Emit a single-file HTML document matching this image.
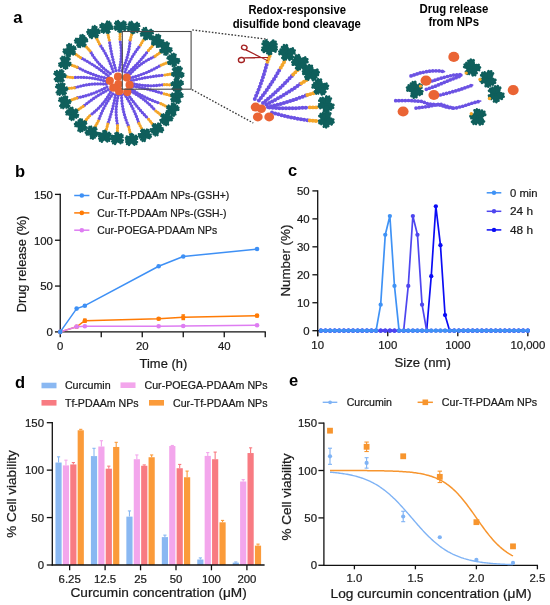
<!DOCTYPE html>
<html><head><meta charset="utf-8"><style>
html,body{margin:0;padding:0;background:#fff;}
body{width:550px;height:605px;overflow:hidden;}
svg{display:block;will-change:transform;font-family:"Liberation Sans", sans-serif;}
</style></head><body>
<svg width="550" height="605" viewBox="0 0 550 605">
<rect width="550" height="605" fill="#fff"/>
<text x="13.20" y="22.80" font-size="16.5" text-anchor="start" fill="#000" font-weight="bold" >a</text>
<text x="15.00" y="176.80" font-size="16.5" text-anchor="start" fill="#000" font-weight="bold" >b</text>
<text x="288.00" y="176.30" font-size="16.5" text-anchor="start" fill="#000" font-weight="bold" >c</text>
<text x="15.00" y="387.70" font-size="16.5" text-anchor="start" fill="#000" font-weight="bold" >d</text>
<text x="288.90" y="385.80" font-size="16.5" text-anchor="start" fill="#000" font-weight="bold" >e</text>
<line x1="60.25" y1="193.79" x2="60.25" y2="337.20" stroke="#111" stroke-width="1.3" />
<line x1="59.65" y1="331.90" x2="265.85" y2="331.90" stroke="#111" stroke-width="1.3" />
<line x1="54.95" y1="331.90" x2="60.25" y2="331.90" stroke="#111" stroke-width="1.3" />
<text x="52.90" y="336.20" font-size="11.4" text-anchor="end" fill="#1a1a1a" stroke="#1a1a1a" stroke-width="0.22" >0</text>
<line x1="54.95" y1="286.06" x2="60.25" y2="286.06" stroke="#111" stroke-width="1.3" />
<text x="52.90" y="290.37" font-size="11.4" text-anchor="end" fill="#1a1a1a" stroke="#1a1a1a" stroke-width="0.22" >50</text>
<line x1="54.95" y1="240.23" x2="60.25" y2="240.23" stroke="#111" stroke-width="1.3" />
<text x="52.90" y="244.53" font-size="11.4" text-anchor="end" fill="#1a1a1a" stroke="#1a1a1a" stroke-width="0.22" >100</text>
<line x1="54.95" y1="194.39" x2="60.25" y2="194.39" stroke="#111" stroke-width="1.3" />
<text x="52.90" y="198.69" font-size="11.4" text-anchor="end" fill="#1a1a1a" stroke="#1a1a1a" stroke-width="0.22" >150</text>
<line x1="101.25" y1="331.90" x2="101.25" y2="337.20" stroke="#111" stroke-width="1.3" />
<line x1="142.25" y1="331.90" x2="142.25" y2="337.20" stroke="#111" stroke-width="1.3" />
<line x1="183.25" y1="331.90" x2="183.25" y2="337.20" stroke="#111" stroke-width="1.3" />
<line x1="224.25" y1="331.90" x2="224.25" y2="337.20" stroke="#111" stroke-width="1.3" />
<line x1="265.25" y1="331.90" x2="265.25" y2="337.20" stroke="#111" stroke-width="1.3" />
<text x="60.25" y="349.50" font-size="11.4" text-anchor="middle" fill="#1a1a1a" stroke="#1a1a1a" stroke-width="0.22" >0</text>
<text x="142.25" y="349.50" font-size="11.4" text-anchor="middle" fill="#1a1a1a" stroke="#1a1a1a" stroke-width="0.22" >20</text>
<text x="224.25" y="349.50" font-size="11.4" text-anchor="middle" fill="#1a1a1a" stroke="#1a1a1a" stroke-width="0.22" >40</text>
<text x="163.40" y="367.60" font-size="12.8" text-anchor="middle" fill="#1a1a1a" stroke="#1a1a1a" stroke-width="0.22" textLength="47.60" lengthAdjust="spacingAndGlyphs" >Time (h)</text>
<text x="26.20" y="264.00" font-size="12.8" text-anchor="middle" fill="#1a1a1a" stroke="#1a1a1a" stroke-width="0.22" textLength="96.60" lengthAdjust="spacingAndGlyphs" transform="rotate(-90 26.20 264.00)" >Drug release (%)</text>
<line x1="84.85" y1="319.07" x2="84.85" y2="322.37" stroke="#ff7b05" stroke-width="1.2" />
<line x1="83.05" y1="319.07" x2="86.65" y2="319.07" stroke="#ff7b05" stroke-width="1.2" />
<line x1="83.05" y1="322.37" x2="86.65" y2="322.37" stroke="#ff7b05" stroke-width="1.2" />
<line x1="158.65" y1="317.60" x2="158.65" y2="319.80" stroke="#ff7b05" stroke-width="1.2" />
<line x1="156.85" y1="317.60" x2="160.45" y2="317.60" stroke="#ff7b05" stroke-width="1.2" />
<line x1="156.85" y1="319.80" x2="160.45" y2="319.80" stroke="#ff7b05" stroke-width="1.2" />
<line x1="183.25" y1="314.85" x2="183.25" y2="319.62" stroke="#ff7b05" stroke-width="1.2" />
<line x1="181.45" y1="314.85" x2="185.05" y2="314.85" stroke="#ff7b05" stroke-width="1.2" />
<line x1="181.45" y1="319.62" x2="185.05" y2="319.62" stroke="#ff7b05" stroke-width="1.2" />
<line x1="257.05" y1="314.57" x2="257.05" y2="316.77" stroke="#ff7b05" stroke-width="1.2" />
<line x1="255.25" y1="314.57" x2="258.85" y2="314.57" stroke="#ff7b05" stroke-width="1.2" />
<line x1="255.25" y1="316.77" x2="258.85" y2="316.77" stroke="#ff7b05" stroke-width="1.2" />
<polyline points="60.25,331.90 76.65,326.77 84.85,320.72 158.65,318.70 183.25,317.23 257.05,315.67" fill="none" stroke="#ff7b05" stroke-width="1.5" stroke-linejoin="round" />
<circle cx="60.25" cy="331.90" r="2.30" fill="#ff7b05" />
<circle cx="76.65" cy="326.77" r="2.30" fill="#ff7b05" />
<circle cx="84.85" cy="320.72" r="2.30" fill="#ff7b05" />
<circle cx="158.65" cy="318.70" r="2.30" fill="#ff7b05" />
<circle cx="183.25" cy="317.23" r="2.30" fill="#ff7b05" />
<circle cx="257.05" cy="315.67" r="2.30" fill="#ff7b05" />
<polyline points="60.25,331.90 76.65,326.67 84.85,326.22 158.65,326.22 183.25,325.94 257.05,325.21" fill="none" stroke="#de7df2" stroke-width="1.5" stroke-linejoin="round" />
<circle cx="60.25" cy="331.90" r="2.30" fill="#de7df2" />
<circle cx="76.65" cy="326.67" r="2.30" fill="#de7df2" />
<circle cx="84.85" cy="326.22" r="2.30" fill="#de7df2" />
<circle cx="158.65" cy="326.22" r="2.30" fill="#de7df2" />
<circle cx="183.25" cy="325.94" r="2.30" fill="#de7df2" />
<circle cx="257.05" cy="325.21" r="2.30" fill="#de7df2" />
<polyline points="60.25,331.90 76.65,308.62 84.85,305.68 158.65,266.26 183.25,256.55 257.05,249.03" fill="none" stroke="#3e90f5" stroke-width="1.5" stroke-linejoin="round" />
<circle cx="60.25" cy="331.90" r="2.30" fill="#3e90f5" />
<circle cx="76.65" cy="308.62" r="2.30" fill="#3e90f5" />
<circle cx="84.85" cy="305.68" r="2.30" fill="#3e90f5" />
<circle cx="158.65" cy="266.26" r="2.30" fill="#3e90f5" />
<circle cx="183.25" cy="256.55" r="2.30" fill="#3e90f5" />
<circle cx="257.05" cy="249.03" r="2.30" fill="#3e90f5" />
<line x1="74.20" y1="195.50" x2="89.40" y2="195.50" stroke="#3e90f5" stroke-width="1.5" />
<circle cx="81.80" cy="195.50" r="2.30" fill="#3e90f5" />
<text x="97.30" y="199.40" font-size="11.4" text-anchor="start" fill="#1a1a1a" stroke="#1a1a1a" stroke-width="0.22" textLength="132.00" lengthAdjust="spacingAndGlyphs" >Cur-Tf-PDAAm NPs-(GSH+)</text>
<line x1="74.20" y1="212.90" x2="89.40" y2="212.90" stroke="#ff7b05" stroke-width="1.5" />
<circle cx="81.80" cy="212.90" r="2.30" fill="#ff7b05" />
<text x="97.30" y="216.80" font-size="11.4" text-anchor="start" fill="#1a1a1a" stroke="#1a1a1a" stroke-width="0.22" textLength="129.20" lengthAdjust="spacingAndGlyphs" >Cur-Tf-PDAAm NPs-(GSH-)</text>
<line x1="74.20" y1="230.20" x2="89.40" y2="230.20" stroke="#de7df2" stroke-width="1.5" />
<circle cx="81.80" cy="230.20" r="2.30" fill="#de7df2" />
<text x="97.30" y="234.10" font-size="11.4" text-anchor="start" fill="#1a1a1a" stroke="#1a1a1a" stroke-width="0.22" textLength="119.90" lengthAdjust="spacingAndGlyphs" >Cur-POEGA-PDAAm NPs</text>
<line x1="317.70" y1="190.30" x2="317.70" y2="336.20" stroke="#111" stroke-width="1.3" />
<line x1="317.10" y1="330.70" x2="528.45" y2="330.70" stroke="#111" stroke-width="1.3" />
<line x1="312.40" y1="330.70" x2="317.70" y2="330.70" stroke="#111" stroke-width="1.3" />
<text x="309.60" y="334.90" font-size="11.4" text-anchor="end" fill="#1a1a1a" stroke="#1a1a1a" stroke-width="0.22" >0</text>
<line x1="312.40" y1="302.74" x2="317.70" y2="302.74" stroke="#111" stroke-width="1.3" />
<text x="309.60" y="306.94" font-size="11.4" text-anchor="end" fill="#1a1a1a" stroke="#1a1a1a" stroke-width="0.22" >10</text>
<line x1="312.40" y1="274.78" x2="317.70" y2="274.78" stroke="#111" stroke-width="1.3" />
<text x="309.60" y="278.98" font-size="11.4" text-anchor="end" fill="#1a1a1a" stroke="#1a1a1a" stroke-width="0.22" >20</text>
<line x1="312.40" y1="246.82" x2="317.70" y2="246.82" stroke="#111" stroke-width="1.3" />
<text x="309.60" y="251.02" font-size="11.4" text-anchor="end" fill="#1a1a1a" stroke="#1a1a1a" stroke-width="0.22" >30</text>
<line x1="312.40" y1="218.86" x2="317.70" y2="218.86" stroke="#111" stroke-width="1.3" />
<text x="309.60" y="223.06" font-size="11.4" text-anchor="end" fill="#1a1a1a" stroke="#1a1a1a" stroke-width="0.22" >40</text>
<line x1="312.40" y1="190.90" x2="317.70" y2="190.90" stroke="#111" stroke-width="1.3" />
<text x="309.60" y="195.10" font-size="11.4" text-anchor="end" fill="#1a1a1a" stroke="#1a1a1a" stroke-width="0.22" >50</text>
<line x1="317.70" y1="330.70" x2="317.70" y2="336.20" stroke="#111" stroke-width="1.3" />
<text x="317.70" y="349.00" font-size="11.4" text-anchor="middle" fill="#1a1a1a" stroke="#1a1a1a" stroke-width="0.22" >10</text>
<line x1="387.75" y1="330.70" x2="387.75" y2="336.20" stroke="#111" stroke-width="1.3" />
<text x="387.75" y="349.00" font-size="11.4" text-anchor="middle" fill="#1a1a1a" stroke="#1a1a1a" stroke-width="0.22" >100</text>
<line x1="457.80" y1="330.70" x2="457.80" y2="336.20" stroke="#111" stroke-width="1.3" />
<text x="457.80" y="349.00" font-size="11.4" text-anchor="middle" fill="#1a1a1a" stroke="#1a1a1a" stroke-width="0.22" >1000</text>
<line x1="527.85" y1="330.70" x2="527.85" y2="336.20" stroke="#111" stroke-width="1.3" />
<text x="527.85" y="349.00" font-size="11.4" text-anchor="middle" fill="#1a1a1a" stroke="#1a1a1a" stroke-width="0.22" >10,000</text>
<text x="422.70" y="367.40" font-size="12.8" text-anchor="middle" fill="#1a1a1a" stroke="#1a1a1a" stroke-width="0.22" textLength="56.40" lengthAdjust="spacingAndGlyphs" >Size (nm)</text>
<text x="289.80" y="260.60" font-size="12.8" text-anchor="middle" fill="#1a1a1a" stroke="#1a1a1a" stroke-width="0.22" textLength="71.90" lengthAdjust="spacingAndGlyphs" transform="rotate(-90 289.80 260.60)" >Number (%)</text>
<polyline points="320.90,330.70 325.50,330.70 330.10,330.70 334.69,330.70 339.29,330.70 343.89,330.70 348.49,330.70 353.09,330.70 357.68,330.70 362.28,330.70 366.88,330.70 371.48,330.70 376.08,330.70 380.67,330.70 385.27,330.70 389.87,330.70 394.47,330.70 399.07,330.70 403.66,330.70 408.26,330.70 412.86,330.70 417.46,330.70 422.06,330.70 426.65,330.70 431.25,276.18 435.85,206.28 440.45,245.14 445.05,315.04 449.64,330.70 454.24,330.70 458.84,330.70 463.44,330.70 468.04,330.70 472.63,330.70 477.23,330.70 481.83,330.70 486.43,330.70 491.03,330.70 495.62,330.70 500.22,330.70 504.82,330.70 509.42,330.70 514.02,330.70 518.61,330.70 523.21,330.70 527.81,330.70" fill="none" stroke="#0b0cf4" stroke-width="1.7" stroke-linejoin="round" />
<circle cx="320.90" cy="330.70" r="2.15" fill="#0b0cf4" />
<circle cx="325.50" cy="330.70" r="2.15" fill="#0b0cf4" />
<circle cx="330.10" cy="330.70" r="2.15" fill="#0b0cf4" />
<circle cx="334.69" cy="330.70" r="2.15" fill="#0b0cf4" />
<circle cx="339.29" cy="330.70" r="2.15" fill="#0b0cf4" />
<circle cx="343.89" cy="330.70" r="2.15" fill="#0b0cf4" />
<circle cx="348.49" cy="330.70" r="2.15" fill="#0b0cf4" />
<circle cx="353.09" cy="330.70" r="2.15" fill="#0b0cf4" />
<circle cx="357.68" cy="330.70" r="2.15" fill="#0b0cf4" />
<circle cx="362.28" cy="330.70" r="2.15" fill="#0b0cf4" />
<circle cx="366.88" cy="330.70" r="2.15" fill="#0b0cf4" />
<circle cx="371.48" cy="330.70" r="2.15" fill="#0b0cf4" />
<circle cx="376.08" cy="330.70" r="2.15" fill="#0b0cf4" />
<circle cx="380.67" cy="330.70" r="2.15" fill="#0b0cf4" />
<circle cx="385.27" cy="330.70" r="2.15" fill="#0b0cf4" />
<circle cx="389.87" cy="330.70" r="2.15" fill="#0b0cf4" />
<circle cx="394.47" cy="330.70" r="2.15" fill="#0b0cf4" />
<circle cx="399.07" cy="330.70" r="2.15" fill="#0b0cf4" />
<circle cx="403.66" cy="330.70" r="2.15" fill="#0b0cf4" />
<circle cx="408.26" cy="330.70" r="2.15" fill="#0b0cf4" />
<circle cx="412.86" cy="330.70" r="2.15" fill="#0b0cf4" />
<circle cx="417.46" cy="330.70" r="2.15" fill="#0b0cf4" />
<circle cx="422.06" cy="330.70" r="2.15" fill="#0b0cf4" />
<circle cx="426.65" cy="330.70" r="2.15" fill="#0b0cf4" />
<circle cx="431.25" cy="276.18" r="2.15" fill="#0b0cf4" />
<circle cx="435.85" cy="206.28" r="2.15" fill="#0b0cf4" />
<circle cx="440.45" cy="245.14" r="2.15" fill="#0b0cf4" />
<circle cx="445.05" cy="315.04" r="2.15" fill="#0b0cf4" />
<circle cx="449.64" cy="330.70" r="2.15" fill="#0b0cf4" />
<circle cx="454.24" cy="330.70" r="2.15" fill="#0b0cf4" />
<circle cx="458.84" cy="330.70" r="2.15" fill="#0b0cf4" />
<circle cx="463.44" cy="330.70" r="2.15" fill="#0b0cf4" />
<circle cx="468.04" cy="330.70" r="2.15" fill="#0b0cf4" />
<circle cx="472.63" cy="330.70" r="2.15" fill="#0b0cf4" />
<circle cx="477.23" cy="330.70" r="2.15" fill="#0b0cf4" />
<circle cx="481.83" cy="330.70" r="2.15" fill="#0b0cf4" />
<circle cx="486.43" cy="330.70" r="2.15" fill="#0b0cf4" />
<circle cx="491.03" cy="330.70" r="2.15" fill="#0b0cf4" />
<circle cx="495.62" cy="330.70" r="2.15" fill="#0b0cf4" />
<circle cx="500.22" cy="330.70" r="2.15" fill="#0b0cf4" />
<circle cx="504.82" cy="330.70" r="2.15" fill="#0b0cf4" />
<circle cx="509.42" cy="330.70" r="2.15" fill="#0b0cf4" />
<circle cx="514.02" cy="330.70" r="2.15" fill="#0b0cf4" />
<circle cx="518.61" cy="330.70" r="2.15" fill="#0b0cf4" />
<circle cx="523.21" cy="330.70" r="2.15" fill="#0b0cf4" />
<circle cx="527.81" cy="330.70" r="2.15" fill="#0b0cf4" />
<polyline points="320.90,330.70 325.50,330.70 330.10,330.70 334.69,330.70 339.29,330.70 343.89,330.70 348.49,330.70 353.09,330.70 357.68,330.70 362.28,330.70 366.88,330.70 371.48,330.70 376.08,330.70 380.67,330.70 385.27,330.70 389.87,330.70 394.47,330.70 399.07,330.70 403.66,330.70 408.26,285.96 412.86,216.06 417.46,234.80 422.06,304.70 426.65,330.70 431.25,330.70 435.85,330.70 440.45,330.70 445.05,330.70 449.64,330.70 454.24,330.70 458.84,330.70 463.44,330.70 468.04,330.70 472.63,330.70 477.23,330.70 481.83,330.70 486.43,330.70 491.03,330.70 495.62,330.70 500.22,330.70 504.82,330.70 509.42,330.70 514.02,330.70 518.61,330.70 523.21,330.70 527.81,330.70" fill="none" stroke="#4e46ef" stroke-width="1.7" stroke-linejoin="round" />
<circle cx="320.90" cy="330.70" r="2.15" fill="#4e46ef" />
<circle cx="325.50" cy="330.70" r="2.15" fill="#4e46ef" />
<circle cx="330.10" cy="330.70" r="2.15" fill="#4e46ef" />
<circle cx="334.69" cy="330.70" r="2.15" fill="#4e46ef" />
<circle cx="339.29" cy="330.70" r="2.15" fill="#4e46ef" />
<circle cx="343.89" cy="330.70" r="2.15" fill="#4e46ef" />
<circle cx="348.49" cy="330.70" r="2.15" fill="#4e46ef" />
<circle cx="353.09" cy="330.70" r="2.15" fill="#4e46ef" />
<circle cx="357.68" cy="330.70" r="2.15" fill="#4e46ef" />
<circle cx="362.28" cy="330.70" r="2.15" fill="#4e46ef" />
<circle cx="366.88" cy="330.70" r="2.15" fill="#4e46ef" />
<circle cx="371.48" cy="330.70" r="2.15" fill="#4e46ef" />
<circle cx="376.08" cy="330.70" r="2.15" fill="#4e46ef" />
<circle cx="380.67" cy="330.70" r="2.15" fill="#4e46ef" />
<circle cx="385.27" cy="330.70" r="2.15" fill="#4e46ef" />
<circle cx="389.87" cy="330.70" r="2.15" fill="#4e46ef" />
<circle cx="394.47" cy="330.70" r="2.15" fill="#4e46ef" />
<circle cx="399.07" cy="330.70" r="2.15" fill="#4e46ef" />
<circle cx="403.66" cy="330.70" r="2.15" fill="#4e46ef" />
<circle cx="408.26" cy="285.96" r="2.15" fill="#4e46ef" />
<circle cx="412.86" cy="216.06" r="2.15" fill="#4e46ef" />
<circle cx="417.46" cy="234.80" r="2.15" fill="#4e46ef" />
<circle cx="422.06" cy="304.70" r="2.15" fill="#4e46ef" />
<circle cx="426.65" cy="330.70" r="2.15" fill="#4e46ef" />
<circle cx="431.25" cy="330.70" r="2.15" fill="#4e46ef" />
<circle cx="435.85" cy="330.70" r="2.15" fill="#4e46ef" />
<circle cx="440.45" cy="330.70" r="2.15" fill="#4e46ef" />
<circle cx="445.05" cy="330.70" r="2.15" fill="#4e46ef" />
<circle cx="449.64" cy="330.70" r="2.15" fill="#4e46ef" />
<circle cx="454.24" cy="330.70" r="2.15" fill="#4e46ef" />
<circle cx="458.84" cy="330.70" r="2.15" fill="#4e46ef" />
<circle cx="463.44" cy="330.70" r="2.15" fill="#4e46ef" />
<circle cx="468.04" cy="330.70" r="2.15" fill="#4e46ef" />
<circle cx="472.63" cy="330.70" r="2.15" fill="#4e46ef" />
<circle cx="477.23" cy="330.70" r="2.15" fill="#4e46ef" />
<circle cx="481.83" cy="330.70" r="2.15" fill="#4e46ef" />
<circle cx="486.43" cy="330.70" r="2.15" fill="#4e46ef" />
<circle cx="491.03" cy="330.70" r="2.15" fill="#4e46ef" />
<circle cx="495.62" cy="330.70" r="2.15" fill="#4e46ef" />
<circle cx="500.22" cy="330.70" r="2.15" fill="#4e46ef" />
<circle cx="504.82" cy="330.70" r="2.15" fill="#4e46ef" />
<circle cx="509.42" cy="330.70" r="2.15" fill="#4e46ef" />
<circle cx="514.02" cy="330.70" r="2.15" fill="#4e46ef" />
<circle cx="518.61" cy="330.70" r="2.15" fill="#4e46ef" />
<circle cx="523.21" cy="330.70" r="2.15" fill="#4e46ef" />
<circle cx="527.81" cy="330.70" r="2.15" fill="#4e46ef" />
<polyline points="320.90,330.70 325.50,330.70 330.10,330.70 334.69,330.70 339.29,330.70 343.89,330.70 348.49,330.70 353.09,330.70 357.68,330.70 362.28,330.70 366.88,330.70 371.48,330.70 376.08,330.70 380.67,304.70 385.27,234.80 389.87,216.06 394.47,285.96 399.07,330.70 403.66,330.70 408.26,330.70 412.86,330.70 417.46,330.70 422.06,330.70 426.65,330.70 431.25,330.70 435.85,330.70 440.45,330.70 445.05,330.70 449.64,330.70 454.24,330.70 458.84,330.70 463.44,330.70 468.04,330.70 472.63,330.70 477.23,330.70 481.83,330.70 486.43,330.70 491.03,330.70 495.62,330.70 500.22,330.70 504.82,330.70 509.42,330.70 514.02,330.70 518.61,330.70 523.21,330.70 527.81,330.70" fill="none" stroke="#3f92f5" stroke-width="1.7" stroke-linejoin="round" />
<circle cx="320.90" cy="330.70" r="2.15" fill="#3f92f5" />
<circle cx="325.50" cy="330.70" r="2.15" fill="#3f92f5" />
<circle cx="330.10" cy="330.70" r="2.15" fill="#3f92f5" />
<circle cx="334.69" cy="330.70" r="2.15" fill="#3f92f5" />
<circle cx="339.29" cy="330.70" r="2.15" fill="#3f92f5" />
<circle cx="343.89" cy="330.70" r="2.15" fill="#3f92f5" />
<circle cx="348.49" cy="330.70" r="2.15" fill="#3f92f5" />
<circle cx="353.09" cy="330.70" r="2.15" fill="#3f92f5" />
<circle cx="357.68" cy="330.70" r="2.15" fill="#3f92f5" />
<circle cx="362.28" cy="330.70" r="2.15" fill="#3f92f5" />
<circle cx="366.88" cy="330.70" r="2.15" fill="#3f92f5" />
<circle cx="371.48" cy="330.70" r="2.15" fill="#3f92f5" />
<circle cx="376.08" cy="330.70" r="2.15" fill="#3f92f5" />
<circle cx="380.67" cy="304.70" r="2.15" fill="#3f92f5" />
<circle cx="385.27" cy="234.80" r="2.15" fill="#3f92f5" />
<circle cx="389.87" cy="216.06" r="2.15" fill="#3f92f5" />
<circle cx="394.47" cy="285.96" r="2.15" fill="#3f92f5" />
<circle cx="399.07" cy="330.70" r="2.15" fill="#3f92f5" />
<circle cx="403.66" cy="330.70" r="2.15" fill="#3f92f5" />
<circle cx="408.26" cy="330.70" r="2.15" fill="#3f92f5" />
<circle cx="412.86" cy="330.70" r="2.15" fill="#3f92f5" />
<circle cx="417.46" cy="330.70" r="2.15" fill="#3f92f5" />
<circle cx="422.06" cy="330.70" r="2.15" fill="#3f92f5" />
<circle cx="426.65" cy="330.70" r="2.15" fill="#3f92f5" />
<circle cx="431.25" cy="330.70" r="2.15" fill="#3f92f5" />
<circle cx="435.85" cy="330.70" r="2.15" fill="#3f92f5" />
<circle cx="440.45" cy="330.70" r="2.15" fill="#3f92f5" />
<circle cx="445.05" cy="330.70" r="2.15" fill="#3f92f5" />
<circle cx="449.64" cy="330.70" r="2.15" fill="#3f92f5" />
<circle cx="454.24" cy="330.70" r="2.15" fill="#3f92f5" />
<circle cx="458.84" cy="330.70" r="2.15" fill="#3f92f5" />
<circle cx="463.44" cy="330.70" r="2.15" fill="#3f92f5" />
<circle cx="468.04" cy="330.70" r="2.15" fill="#3f92f5" />
<circle cx="472.63" cy="330.70" r="2.15" fill="#3f92f5" />
<circle cx="477.23" cy="330.70" r="2.15" fill="#3f92f5" />
<circle cx="481.83" cy="330.70" r="2.15" fill="#3f92f5" />
<circle cx="486.43" cy="330.70" r="2.15" fill="#3f92f5" />
<circle cx="491.03" cy="330.70" r="2.15" fill="#3f92f5" />
<circle cx="495.62" cy="330.70" r="2.15" fill="#3f92f5" />
<circle cx="500.22" cy="330.70" r="2.15" fill="#3f92f5" />
<circle cx="504.82" cy="330.70" r="2.15" fill="#3f92f5" />
<circle cx="509.42" cy="330.70" r="2.15" fill="#3f92f5" />
<circle cx="514.02" cy="330.70" r="2.15" fill="#3f92f5" />
<circle cx="518.61" cy="330.70" r="2.15" fill="#3f92f5" />
<circle cx="523.21" cy="330.70" r="2.15" fill="#3f92f5" />
<circle cx="527.81" cy="330.70" r="2.15" fill="#3f92f5" />
<line x1="486.70" y1="192.80" x2="501.30" y2="192.80" stroke="#3f92f5" stroke-width="1.5" />
<circle cx="494.00" cy="192.80" r="2.20" fill="#3f92f5" />
<text x="510.00" y="196.70" font-size="11.8" text-anchor="start" fill="#1a1a1a" stroke="#1a1a1a" stroke-width="0.22" textLength="27.60" lengthAdjust="spacingAndGlyphs" >0 min</text>
<line x1="486.70" y1="211.30" x2="501.30" y2="211.30" stroke="#4e46ef" stroke-width="1.5" />
<circle cx="494.00" cy="211.30" r="2.20" fill="#4e46ef" />
<text x="510.00" y="215.20" font-size="11.8" text-anchor="start" fill="#1a1a1a" stroke="#1a1a1a" stroke-width="0.22" >24 h</text>
<line x1="486.70" y1="229.90" x2="501.30" y2="229.90" stroke="#0b0cf4" stroke-width="1.5" />
<circle cx="494.00" cy="229.90" r="2.20" fill="#0b0cf4" />
<text x="510.00" y="233.80" font-size="11.8" text-anchor="start" fill="#1a1a1a" stroke="#1a1a1a" stroke-width="0.22" >48 h</text>
<line x1="58.55" y1="462.54" x2="58.55" y2="456.85" stroke="#8ab8f2" stroke-width="1.1" />
<line x1="56.95" y1="456.85" x2="60.15" y2="456.85" stroke="#8ab8f2" stroke-width="1.1" />
<rect x="55.45" y="462.54" width="6.2" height="102.46" fill="#8ab8f2"/>
<line x1="65.95" y1="465.39" x2="65.95" y2="460.17" stroke="#f3a6ec" stroke-width="1.1" />
<line x1="64.35" y1="460.17" x2="67.55" y2="460.17" stroke="#f3a6ec" stroke-width="1.1" />
<rect x="62.85" y="465.39" width="6.2" height="99.61" fill="#f3a6ec"/>
<line x1="73.35" y1="464.44" x2="73.35" y2="462.54" stroke="#f87b82" stroke-width="1.1" />
<line x1="71.75" y1="462.54" x2="74.95" y2="462.54" stroke="#f87b82" stroke-width="1.1" />
<rect x="70.25" y="464.44" width="6.2" height="100.56" fill="#f87b82"/>
<line x1="80.75" y1="430.28" x2="80.75" y2="429.34" stroke="#fb9b3a" stroke-width="1.1" />
<line x1="79.15" y1="429.34" x2="82.35" y2="429.34" stroke="#fb9b3a" stroke-width="1.1" />
<rect x="77.65" y="430.28" width="6.2" height="134.72" fill="#fb9b3a"/>
<line x1="94.00" y1="456.09" x2="94.00" y2="448.31" stroke="#8ab8f2" stroke-width="1.1" />
<line x1="92.40" y1="448.31" x2="95.60" y2="448.31" stroke="#8ab8f2" stroke-width="1.1" />
<rect x="90.90" y="456.09" width="6.2" height="108.91" fill="#8ab8f2"/>
<line x1="101.40" y1="446.51" x2="101.40" y2="440.72" stroke="#f3a6ec" stroke-width="1.1" />
<line x1="99.80" y1="440.72" x2="103.00" y2="440.72" stroke="#f3a6ec" stroke-width="1.1" />
<rect x="98.30" y="446.51" width="6.2" height="118.49" fill="#f3a6ec"/>
<line x1="108.80" y1="468.71" x2="108.80" y2="466.15" stroke="#f87b82" stroke-width="1.1" />
<line x1="107.20" y1="466.15" x2="110.40" y2="466.15" stroke="#f87b82" stroke-width="1.1" />
<rect x="105.70" y="468.71" width="6.2" height="96.29" fill="#f87b82"/>
<line x1="116.20" y1="446.98" x2="116.20" y2="442.33" stroke="#fb9b3a" stroke-width="1.1" />
<line x1="114.60" y1="442.33" x2="117.80" y2="442.33" stroke="#fb9b3a" stroke-width="1.1" />
<rect x="113.10" y="446.98" width="6.2" height="118.02" fill="#fb9b3a"/>
<line x1="129.45" y1="516.62" x2="129.45" y2="510.92" stroke="#8ab8f2" stroke-width="1.1" />
<line x1="127.85" y1="510.92" x2="131.05" y2="510.92" stroke="#8ab8f2" stroke-width="1.1" />
<rect x="126.35" y="516.62" width="6.2" height="48.38" fill="#8ab8f2"/>
<line x1="136.85" y1="459.22" x2="136.85" y2="454.95" stroke="#f3a6ec" stroke-width="1.1" />
<line x1="135.25" y1="454.95" x2="138.45" y2="454.95" stroke="#f3a6ec" stroke-width="1.1" />
<rect x="133.75" y="459.22" width="6.2" height="105.78" fill="#f3a6ec"/>
<line x1="144.25" y1="465.77" x2="144.25" y2="464.91" stroke="#f87b82" stroke-width="1.1" />
<line x1="142.65" y1="464.91" x2="145.85" y2="464.91" stroke="#f87b82" stroke-width="1.1" />
<rect x="141.15" y="465.77" width="6.2" height="99.23" fill="#f87b82"/>
<line x1="151.65" y1="457.23" x2="151.65" y2="454.95" stroke="#fb9b3a" stroke-width="1.1" />
<line x1="150.05" y1="454.95" x2="153.25" y2="454.95" stroke="#fb9b3a" stroke-width="1.1" />
<rect x="148.55" y="457.23" width="6.2" height="107.77" fill="#fb9b3a"/>
<line x1="164.90" y1="537.11" x2="164.90" y2="535.12" stroke="#8ab8f2" stroke-width="1.1" />
<line x1="163.30" y1="535.12" x2="166.50" y2="535.12" stroke="#8ab8f2" stroke-width="1.1" />
<rect x="161.80" y="537.11" width="6.2" height="27.89" fill="#8ab8f2"/>
<line x1="172.30" y1="446.03" x2="172.30" y2="445.46" stroke="#f3a6ec" stroke-width="1.1" />
<line x1="170.70" y1="445.46" x2="173.90" y2="445.46" stroke="#f3a6ec" stroke-width="1.1" />
<rect x="169.20" y="446.03" width="6.2" height="118.97" fill="#f3a6ec"/>
<line x1="179.70" y1="468.23" x2="179.70" y2="464.44" stroke="#f87b82" stroke-width="1.1" />
<line x1="178.10" y1="464.44" x2="181.30" y2="464.44" stroke="#f87b82" stroke-width="1.1" />
<rect x="176.60" y="468.23" width="6.2" height="96.77" fill="#f87b82"/>
<line x1="187.10" y1="477.25" x2="187.10" y2="471.08" stroke="#fb9b3a" stroke-width="1.1" />
<line x1="185.50" y1="471.08" x2="188.70" y2="471.08" stroke="#fb9b3a" stroke-width="1.1" />
<rect x="184.00" y="477.25" width="6.2" height="87.75" fill="#fb9b3a"/>
<line x1="200.35" y1="559.50" x2="200.35" y2="557.88" stroke="#8ab8f2" stroke-width="1.1" />
<line x1="198.75" y1="557.88" x2="201.95" y2="557.88" stroke="#8ab8f2" stroke-width="1.1" />
<rect x="197.25" y="559.50" width="6.2" height="5.50" fill="#8ab8f2"/>
<line x1="207.75" y1="455.90" x2="207.75" y2="452.58" stroke="#f3a6ec" stroke-width="1.1" />
<line x1="206.15" y1="452.58" x2="209.35" y2="452.58" stroke="#f3a6ec" stroke-width="1.1" />
<rect x="204.65" y="455.90" width="6.2" height="109.10" fill="#f3a6ec"/>
<line x1="215.15" y1="459.22" x2="215.15" y2="452.10" stroke="#f87b82" stroke-width="1.1" />
<line x1="213.55" y1="452.10" x2="216.75" y2="452.10" stroke="#f87b82" stroke-width="1.1" />
<rect x="212.05" y="459.22" width="6.2" height="105.78" fill="#f87b82"/>
<line x1="222.55" y1="522.31" x2="222.55" y2="520.41" stroke="#fb9b3a" stroke-width="1.1" />
<line x1="220.95" y1="520.41" x2="224.15" y2="520.41" stroke="#fb9b3a" stroke-width="1.1" />
<rect x="219.45" y="522.31" width="6.2" height="42.69" fill="#fb9b3a"/>
<line x1="235.80" y1="562.63" x2="235.80" y2="561.96" stroke="#8ab8f2" stroke-width="1.1" />
<line x1="234.20" y1="561.96" x2="237.40" y2="561.96" stroke="#8ab8f2" stroke-width="1.1" />
<rect x="232.70" y="562.63" width="6.2" height="2.37" fill="#8ab8f2"/>
<line x1="243.20" y1="481.51" x2="243.20" y2="479.62" stroke="#f3a6ec" stroke-width="1.1" />
<line x1="241.60" y1="479.62" x2="244.80" y2="479.62" stroke="#f3a6ec" stroke-width="1.1" />
<rect x="240.10" y="481.51" width="6.2" height="83.49" fill="#f3a6ec"/>
<line x1="250.60" y1="453.05" x2="250.60" y2="447.84" stroke="#f87b82" stroke-width="1.1" />
<line x1="249.00" y1="447.84" x2="252.20" y2="447.84" stroke="#f87b82" stroke-width="1.1" />
<rect x="247.50" y="453.05" width="6.2" height="111.95" fill="#f87b82"/>
<line x1="258.00" y1="545.65" x2="258.00" y2="544.13" stroke="#fb9b3a" stroke-width="1.1" />
<line x1="256.40" y1="544.13" x2="259.60" y2="544.13" stroke="#fb9b3a" stroke-width="1.1" />
<rect x="254.90" y="545.65" width="6.2" height="19.35" fill="#fb9b3a"/>
<line x1="52.30" y1="422.09" x2="52.30" y2="565.60" stroke="#111" stroke-width="1.3" />
<line x1="51.70" y1="565.00" x2="264.60" y2="565.00" stroke="#111" stroke-width="1.3" />
<line x1="46.80" y1="565.00" x2="52.30" y2="565.00" stroke="#111" stroke-width="1.3" />
<text x="44.00" y="569.10" font-size="11.4" text-anchor="end" fill="#1a1a1a" stroke="#1a1a1a" stroke-width="0.22" >0</text>
<line x1="46.80" y1="517.57" x2="52.30" y2="517.57" stroke="#111" stroke-width="1.3" />
<text x="44.00" y="521.67" font-size="11.4" text-anchor="end" fill="#1a1a1a" stroke="#1a1a1a" stroke-width="0.22" >50</text>
<line x1="46.80" y1="470.13" x2="52.30" y2="470.13" stroke="#111" stroke-width="1.3" />
<text x="44.00" y="474.23" font-size="11.4" text-anchor="end" fill="#1a1a1a" stroke="#1a1a1a" stroke-width="0.22" >100</text>
<line x1="46.80" y1="422.69" x2="52.30" y2="422.69" stroke="#111" stroke-width="1.3" />
<text x="44.00" y="426.80" font-size="11.4" text-anchor="end" fill="#1a1a1a" stroke="#1a1a1a" stroke-width="0.22" >150</text>
<line x1="69.65" y1="565.00" x2="69.65" y2="570.30" stroke="#111" stroke-width="1.3" />
<text x="69.65" y="582.90" font-size="11.4" text-anchor="middle" fill="#1a1a1a" stroke="#1a1a1a" stroke-width="0.22" >6.25</text>
<line x1="105.10" y1="565.00" x2="105.10" y2="570.30" stroke="#111" stroke-width="1.3" />
<text x="105.10" y="582.90" font-size="11.4" text-anchor="middle" fill="#1a1a1a" stroke="#1a1a1a" stroke-width="0.22" >12.5</text>
<line x1="140.55" y1="565.00" x2="140.55" y2="570.30" stroke="#111" stroke-width="1.3" />
<text x="140.55" y="582.90" font-size="11.4" text-anchor="middle" fill="#1a1a1a" stroke="#1a1a1a" stroke-width="0.22" >25</text>
<line x1="176.00" y1="565.00" x2="176.00" y2="570.30" stroke="#111" stroke-width="1.3" />
<text x="176.00" y="582.90" font-size="11.4" text-anchor="middle" fill="#1a1a1a" stroke="#1a1a1a" stroke-width="0.22" >50</text>
<line x1="211.45" y1="565.00" x2="211.45" y2="570.30" stroke="#111" stroke-width="1.3" />
<text x="211.45" y="582.90" font-size="11.4" text-anchor="middle" fill="#1a1a1a" stroke="#1a1a1a" stroke-width="0.22" >100</text>
<line x1="246.90" y1="565.00" x2="246.90" y2="570.30" stroke="#111" stroke-width="1.3" />
<text x="246.90" y="582.90" font-size="11.4" text-anchor="middle" fill="#1a1a1a" stroke="#1a1a1a" stroke-width="0.22" >200</text>
<text x="158.60" y="597.10" font-size="12.8" text-anchor="middle" fill="#1a1a1a" stroke="#1a1a1a" stroke-width="0.22" textLength="176.30" lengthAdjust="spacingAndGlyphs" >Curcumin concentration (μM)</text>
<text x="16.40" y="494.00" font-size="12.8" text-anchor="middle" fill="#1a1a1a" stroke="#1a1a1a" stroke-width="0.22" textLength="87.60" lengthAdjust="spacingAndGlyphs" transform="rotate(-90 16.40 494.00)" >% Cell viability</text>
<rect x="41.5" y="382.7" width="15" height="5.6" fill="#8ab8f2"/>
<text x="64.90" y="389.30" font-size="11.2" text-anchor="start" fill="#1a1a1a" stroke="#1a1a1a" stroke-width="0.22" textLength="45.80" lengthAdjust="spacingAndGlyphs" >Curcumin</text>
<rect x="41.5" y="400.0" width="15" height="5.6" fill="#f87b82"/>
<text x="64.90" y="406.60" font-size="11.2" text-anchor="start" fill="#1a1a1a" stroke="#1a1a1a" stroke-width="0.22" textLength="73.80" lengthAdjust="spacingAndGlyphs" >Tf-PDAAm NPs</text>
<rect x="120.5" y="382.4" width="15" height="5.6" fill="#f3a6ec"/>
<text x="144.50" y="389.00" font-size="11.2" text-anchor="start" fill="#1a1a1a" stroke="#1a1a1a" stroke-width="0.22" textLength="123.00" lengthAdjust="spacingAndGlyphs" >Cur-POEGA-PDAAm NPs</text>
<rect x="149.0" y="400.0" width="15" height="5.6" fill="#fb9b3a"/>
<text x="173.00" y="406.60" font-size="11.2" text-anchor="start" fill="#1a1a1a" stroke="#1a1a1a" stroke-width="0.22" textLength="94.50" lengthAdjust="spacingAndGlyphs" >Cur-Tf-PDAAm NPs</text>
<line x1="323.90" y1="422.50" x2="323.90" y2="565.90" stroke="#111" stroke-width="1.3" />
<line x1="323.30" y1="565.30" x2="538.00" y2="565.30" stroke="#111" stroke-width="1.3" />
<line x1="318.40" y1="565.30" x2="323.90" y2="565.30" stroke="#111" stroke-width="1.3" />
<text x="317.00" y="569.40" font-size="11.4" text-anchor="end" fill="#1a1a1a" stroke="#1a1a1a" stroke-width="0.22" >0</text>
<line x1="318.40" y1="517.90" x2="323.90" y2="517.90" stroke="#111" stroke-width="1.3" />
<text x="317.00" y="522.00" font-size="11.4" text-anchor="end" fill="#1a1a1a" stroke="#1a1a1a" stroke-width="0.22" >50</text>
<line x1="318.40" y1="470.50" x2="323.90" y2="470.50" stroke="#111" stroke-width="1.3" />
<text x="317.00" y="474.60" font-size="11.4" text-anchor="end" fill="#1a1a1a" stroke="#1a1a1a" stroke-width="0.22" >100</text>
<line x1="318.40" y1="423.10" x2="323.90" y2="423.10" stroke="#111" stroke-width="1.3" />
<text x="317.00" y="427.20" font-size="11.4" text-anchor="end" fill="#1a1a1a" stroke="#1a1a1a" stroke-width="0.22" >150</text>
<line x1="354.40" y1="565.30" x2="354.40" y2="569.30" stroke="#111" stroke-width="1.3" />
<text x="354.40" y="582.30" font-size="11.4" text-anchor="middle" fill="#1a1a1a" stroke="#1a1a1a" stroke-width="0.22" >1.0</text>
<line x1="415.40" y1="565.30" x2="415.40" y2="569.30" stroke="#111" stroke-width="1.3" />
<text x="415.40" y="582.30" font-size="11.4" text-anchor="middle" fill="#1a1a1a" stroke="#1a1a1a" stroke-width="0.22" >1.5</text>
<line x1="476.40" y1="565.30" x2="476.40" y2="569.30" stroke="#111" stroke-width="1.3" />
<text x="476.40" y="582.30" font-size="11.4" text-anchor="middle" fill="#1a1a1a" stroke="#1a1a1a" stroke-width="0.22" >2.0</text>
<line x1="537.40" y1="565.30" x2="537.40" y2="569.30" stroke="#111" stroke-width="1.3" />
<text x="537.40" y="582.30" font-size="11.4" text-anchor="middle" fill="#1a1a1a" stroke="#1a1a1a" stroke-width="0.22" >2.5</text>
<text x="431.00" y="598.00" font-size="12.8" text-anchor="middle" fill="#1a1a1a" stroke="#1a1a1a" stroke-width="0.22" textLength="201.00" lengthAdjust="spacingAndGlyphs" >Log curcumin concentration (μM)</text>
<text x="291.00" y="497.00" font-size="12.8" text-anchor="middle" fill="#1a1a1a" stroke="#1a1a1a" stroke-width="0.22" textLength="87.00" lengthAdjust="spacingAndGlyphs" transform="rotate(-90 291.00 497.00)" >% Cell viability</text>
<polyline points="330.00,472.19 331.22,472.29 332.44,472.40 333.66,472.51 334.88,472.63 336.10,472.76 337.32,472.90 338.54,473.04 339.76,473.19 340.98,473.35 342.20,473.52 343.42,473.71 344.64,473.90 345.86,474.10 347.08,474.31 348.30,474.54 349.52,474.77 350.74,475.02 351.96,475.29 353.18,475.57 354.40,475.86 355.62,476.18 356.84,476.50 358.06,476.85 359.28,477.21 360.50,477.60 361.72,478.00 362.94,478.42 364.16,478.87 365.38,479.34 366.60,479.83 367.82,480.34 369.04,480.89 370.26,481.45 371.48,482.05 372.70,482.67 373.92,483.32 375.14,483.99 376.36,484.70 377.58,485.44 378.80,486.21 380.02,487.01 381.24,487.84 382.46,488.71 383.68,489.60 384.90,490.53 386.12,491.49 387.34,492.49 388.56,493.52 389.78,494.58 391.00,495.67 392.22,496.79 393.44,497.94 394.66,499.12 395.88,500.33 397.10,501.57 398.32,502.83 399.54,504.12 400.76,505.43 401.98,506.76 403.20,508.11 404.42,509.48 405.64,510.86 406.86,512.25 408.08,513.65 409.30,515.07 410.52,516.48 411.74,517.90 412.96,519.32 414.18,520.73 415.40,522.15 416.62,523.55 417.84,524.94 419.06,526.32 420.28,527.69 421.50,529.04 422.72,530.37 423.94,531.68 425.16,532.97 426.38,534.23 427.60,535.47 428.82,536.68 430.04,537.86 431.26,539.01 432.48,540.13 433.70,541.22 434.92,542.28 436.14,543.31 437.36,544.31 438.58,545.27 439.80,546.20 441.02,547.09 442.24,547.96 443.46,548.79 444.68,549.59 445.90,550.36 447.12,551.10 448.34,551.81 449.56,552.48 450.78,553.13 452.00,553.75 453.22,554.35 454.44,554.91 455.66,555.46 456.88,555.97 458.10,556.46 459.32,556.93 460.54,557.38 461.76,557.80 462.98,558.20 464.20,558.59 465.42,558.95 466.64,559.30 467.86,559.62 469.08,559.94 470.30,560.23 471.52,560.51 472.74,560.78 473.96,561.03 475.18,561.26 476.40,561.49 477.62,561.70 478.84,561.90 480.06,562.09 481.28,562.28 482.50,562.45 483.72,562.61 484.94,562.76 486.16,562.90 487.38,563.04 488.60,563.17 489.82,563.29 491.04,563.40 492.26,563.51 493.48,563.61 494.70,563.71 495.92,563.80 497.14,563.89 498.36,563.97 499.58,564.04 500.80,564.12 502.02,564.18 503.24,564.25 504.46,564.31 505.68,564.37 506.90,564.42 508.12,564.47 509.34,564.52 510.56,564.56 511.78,564.61 513.00,564.65" fill="none" stroke="#7fb3f5" stroke-width="1.4" stroke-linejoin="round" />
<polyline points="330.00,470.51 331.22,470.51 332.44,470.52 333.66,470.52 334.88,470.52 336.10,470.52 337.32,470.52 338.54,470.52 339.76,470.52 340.98,470.53 342.20,470.53 343.42,470.53 344.64,470.53 345.86,470.54 347.08,470.54 348.30,470.54 349.52,470.54 350.74,470.55 351.96,470.55 353.18,470.56 354.40,470.56 355.62,470.56 356.84,470.57 358.06,470.57 359.28,470.58 360.50,470.59 361.72,470.59 362.94,470.60 364.16,470.61 365.38,470.62 366.60,470.62 367.82,470.63 369.04,470.64 370.26,470.66 371.48,470.67 372.70,470.68 373.92,470.69 375.14,470.71 376.36,470.72 377.58,470.74 378.80,470.76 380.02,470.78 381.24,470.80 382.46,470.82 383.68,470.85 384.90,470.88 386.12,470.90 387.34,470.94 388.56,470.97 389.78,471.00 391.00,471.04 392.22,471.08 393.44,471.13 394.66,471.18 395.88,471.23 397.10,471.28 398.32,471.34 399.54,471.40 400.76,471.47 401.98,471.55 403.20,471.63 404.42,471.71 405.64,471.80 406.86,471.90 408.08,472.01 409.30,472.12 410.52,472.24 411.74,472.37 412.96,472.51 414.18,472.66 415.40,472.82 416.62,473.00 417.84,473.18 419.06,473.38 420.28,473.59 421.50,473.82 422.72,474.07 423.94,474.33 425.16,474.61 426.38,474.91 427.60,475.23 428.82,475.57 430.04,475.93 431.26,476.32 432.48,476.74 433.70,477.18 434.92,477.66 436.14,478.16 437.36,478.69 438.58,479.26 439.80,479.87 441.02,480.51 442.24,481.19 443.46,481.91 444.68,482.67 445.90,483.47 447.12,484.32 448.34,485.21 449.56,486.15 450.78,487.13 452.00,488.17 453.22,489.25 454.44,490.39 455.66,491.57 456.88,492.80 458.10,494.08 459.32,495.41 460.54,496.79 461.76,498.21 462.98,499.68 464.20,501.19 465.42,502.74 466.64,504.32 467.86,505.94 469.08,507.59 470.30,509.27 471.52,510.97 472.74,512.68 473.96,514.41 475.18,516.15 476.40,517.90 477.62,519.65 478.84,521.39 480.06,523.12 481.28,524.83 482.50,526.53 483.72,528.21 484.94,529.86 486.16,531.48 487.38,533.06 488.60,534.61 489.82,536.12 491.04,537.59 492.26,539.01 493.48,540.39 494.70,541.72 495.92,543.00 497.14,544.23 498.36,545.41 499.58,546.55 500.80,547.63 502.02,548.67 503.24,549.65 504.46,550.59 505.68,551.48 506.90,552.33 508.12,553.13 509.34,553.89 510.56,554.61 511.78,555.29 513.00,555.93" fill="none" stroke="#f7952e" stroke-width="1.5" stroke-linejoin="round" />
<line x1="330.00" y1="448.22" x2="330.00" y2="464.34" stroke="#7fb3f5" stroke-width="1.1" />
<line x1="328.00" y1="448.22" x2="332.00" y2="448.22" stroke="#7fb3f5" stroke-width="1.1" />
<line x1="328.00" y1="464.34" x2="332.00" y2="464.34" stroke="#7fb3f5" stroke-width="1.1" />
<circle cx="330.00" cy="456.28" r="2.10" fill="#7fb3f5" />
<line x1="366.60" y1="457.70" x2="366.60" y2="468.13" stroke="#7fb3f5" stroke-width="1.1" />
<line x1="364.60" y1="457.70" x2="368.60" y2="457.70" stroke="#7fb3f5" stroke-width="1.1" />
<line x1="364.60" y1="468.13" x2="368.60" y2="468.13" stroke="#7fb3f5" stroke-width="1.1" />
<circle cx="366.60" cy="462.92" r="2.10" fill="#7fb3f5" />
<line x1="403.20" y1="511.26" x2="403.20" y2="521.69" stroke="#7fb3f5" stroke-width="1.1" />
<line x1="401.20" y1="511.26" x2="405.20" y2="511.26" stroke="#7fb3f5" stroke-width="1.1" />
<line x1="401.20" y1="521.69" x2="405.20" y2="521.69" stroke="#7fb3f5" stroke-width="1.1" />
<circle cx="403.20" cy="516.48" r="2.10" fill="#7fb3f5" />
<circle cx="439.80" cy="537.24" r="2.10" fill="#7fb3f5" />
<circle cx="476.40" cy="559.90" r="2.10" fill="#7fb3f5" />
<circle cx="513.00" cy="562.93" r="2.10" fill="#7fb3f5" />
<rect x="327.10" y="427.78" width="5.8" height="5.8" fill="#f7952e"/>
<line x1="366.60" y1="442.06" x2="366.60" y2="451.54" stroke="#f7952e" stroke-width="1.1" />
<line x1="364.40" y1="442.06" x2="368.80" y2="442.06" stroke="#f7952e" stroke-width="1.1" />
<line x1="364.40" y1="451.54" x2="368.80" y2="451.54" stroke="#f7952e" stroke-width="1.1" />
<rect x="363.70" y="443.90" width="5.8" height="5.8" fill="#f7952e"/>
<rect x="400.30" y="453.38" width="5.8" height="5.8" fill="#f7952e"/>
<line x1="439.80" y1="471.16" x2="439.80" y2="482.54" stroke="#f7952e" stroke-width="1.1" />
<line x1="437.60" y1="471.16" x2="442.00" y2="471.16" stroke="#f7952e" stroke-width="1.1" />
<line x1="437.60" y1="482.54" x2="442.00" y2="482.54" stroke="#f7952e" stroke-width="1.1" />
<rect x="436.90" y="473.95" width="5.8" height="5.8" fill="#f7952e"/>
<rect x="473.50" y="519.27" width="5.8" height="5.8" fill="#f7952e"/>
<rect x="510.10" y="543.44" width="5.8" height="5.8" fill="#f7952e"/>
<line x1="322.70" y1="402.30" x2="337.30" y2="402.30" stroke="#7fb3f5" stroke-width="1.4" />
<circle cx="330.10" cy="402.30" r="1.90" fill="#7fb3f5" />
<text x="346.70" y="405.80" font-size="11.2" text-anchor="start" fill="#1a1a1a" stroke="#1a1a1a" stroke-width="0.22" textLength="45.30" lengthAdjust="spacingAndGlyphs" >Curcumin</text>
<line x1="417.60" y1="402.30" x2="432.90" y2="402.30" stroke="#f7952e" stroke-width="1.5" />
<rect x="422.50" y="399.50" width="5.6" height="5.6" fill="#f7952e"/>
<text x="441.80" y="405.80" font-size="11.2" text-anchor="start" fill="#1a1a1a" stroke="#1a1a1a" stroke-width="0.22" textLength="95.40" lengthAdjust="spacingAndGlyphs" >Cur-Tf-PDAAm NPs</text>
<path d="M106.28,81.38 Q90.11,76.31 73.21,77.60" fill="none" stroke="#6b52e3" stroke-width="1.39" stroke-linecap="round"/>
<path d="M106.28,81.38 Q90.11,76.31 73.21,77.60" fill="none" stroke="#6b52e3" stroke-width="3.30" stroke-linecap="round" stroke-dasharray="0 2.85"/>
<path d="M72.62,77.53 Q68.74,77.09 64.87,76.65" fill="none" stroke="#f4a62a" stroke-width="1.92" stroke-linecap="round"/>
<path d="M72.62,77.53 Q68.74,77.09 64.87,76.65" fill="none" stroke="#f4a62a" stroke-width="3.20" stroke-linecap="round" stroke-dasharray="0 2.6"/>
<path d="M107.00,78.40 Q91.43,75.12 77.56,67.34" fill="none" stroke="#6b52e3" stroke-width="1.39" stroke-linecap="round"/>
<path d="M107.00,78.40 Q91.43,75.12 77.56,67.34" fill="none" stroke="#6b52e3" stroke-width="3.30" stroke-linecap="round" stroke-dasharray="0 2.85"/>
<path d="M77.00,67.13 Q73.34,65.76 69.69,64.39" fill="none" stroke="#f4a62a" stroke-width="1.92" stroke-linecap="round"/>
<path d="M77.00,67.13 Q73.34,65.76 69.69,64.39" fill="none" stroke="#f4a62a" stroke-width="3.20" stroke-linecap="round" stroke-dasharray="0 2.6"/>
<path d="M108.27,75.91 Q95.52,65.56 81.01,57.88" fill="none" stroke="#6b52e3" stroke-width="1.39" stroke-linecap="round"/>
<path d="M108.27,75.91 Q95.52,65.56 81.01,57.88" fill="none" stroke="#6b52e3" stroke-width="3.30" stroke-linecap="round" stroke-dasharray="0 2.85"/>
<path d="M80.51,57.55 Q77.26,55.40 74.00,53.25" fill="none" stroke="#f4a62a" stroke-width="1.92" stroke-linecap="round"/>
<path d="M80.51,57.55 Q77.26,55.40 74.00,53.25" fill="none" stroke="#f4a62a" stroke-width="3.20" stroke-linecap="round" stroke-dasharray="0 2.6"/>
<path d="M110.33,73.51 Q97.66,64.82 90.33,51.31" fill="none" stroke="#6b52e3" stroke-width="1.39" stroke-linecap="round"/>
<path d="M110.33,73.51 Q97.66,64.82 90.33,51.31" fill="none" stroke="#6b52e3" stroke-width="3.30" stroke-linecap="round" stroke-dasharray="0 2.85"/>
<path d="M89.93,50.86 Q87.32,47.96 84.71,45.07" fill="none" stroke="#f4a62a" stroke-width="1.92" stroke-linecap="round"/>
<path d="M89.93,50.86 Q87.32,47.96 84.71,45.07" fill="none" stroke="#f4a62a" stroke-width="3.20" stroke-linecap="round" stroke-dasharray="0 2.6"/>
<path d="M113.15,71.60 Q108.56,56.95 99.67,44.43" fill="none" stroke="#6b52e3" stroke-width="1.39" stroke-linecap="round"/>
<path d="M113.15,71.60 Q108.56,56.95 99.67,44.43" fill="none" stroke="#6b52e3" stroke-width="3.30" stroke-linecap="round" stroke-dasharray="0 2.85"/>
<path d="M99.40,43.89 Q97.67,40.39 95.93,36.90" fill="none" stroke="#f4a62a" stroke-width="1.92" stroke-linecap="round"/>
<path d="M99.40,43.89 Q97.67,40.39 95.93,36.90" fill="none" stroke="#f4a62a" stroke-width="3.20" stroke-linecap="round" stroke-dasharray="0 2.6"/>
<path d="M116.00,70.60 Q111.50,55.85 109.35,40.59" fill="none" stroke="#6b52e3" stroke-width="1.39" stroke-linecap="round"/>
<path d="M116.00,70.60 Q111.50,55.85 109.35,40.59" fill="none" stroke="#6b52e3" stroke-width="3.30" stroke-linecap="round" stroke-dasharray="0 2.85"/>
<path d="M109.22,40.00 Q108.38,36.19 107.54,32.39" fill="none" stroke="#f4a62a" stroke-width="1.92" stroke-linecap="round"/>
<path d="M109.22,40.00 Q108.38,36.19 107.54,32.39" fill="none" stroke="#f4a62a" stroke-width="3.20" stroke-linecap="round" stroke-dasharray="0 2.6"/>
<path d="M119.06,70.31 Q123.09,55.15 119.92,39.79" fill="none" stroke="#6b52e3" stroke-width="1.39" stroke-linecap="round"/>
<path d="M119.06,70.31 Q123.09,55.15 119.92,39.79" fill="none" stroke="#6b52e3" stroke-width="3.30" stroke-linecap="round" stroke-dasharray="0 2.85"/>
<path d="M119.94,39.19 Q120.05,35.30 120.16,31.40" fill="none" stroke="#f4a62a" stroke-width="1.92" stroke-linecap="round"/>
<path d="M119.94,39.19 Q120.05,35.30 120.16,31.40" fill="none" stroke="#f4a62a" stroke-width="3.20" stroke-linecap="round" stroke-dasharray="0 2.6"/>
<path d="M121.94,70.73 Q129.10,56.42 130.08,40.45" fill="none" stroke="#6b52e3" stroke-width="1.39" stroke-linecap="round"/>
<path d="M121.94,70.73 Q129.10,56.42 130.08,40.45" fill="none" stroke="#6b52e3" stroke-width="3.30" stroke-linecap="round" stroke-dasharray="0 2.85"/>
<path d="M130.23,39.87 Q131.24,36.10 132.25,32.34" fill="none" stroke="#f4a62a" stroke-width="1.92" stroke-linecap="round"/>
<path d="M130.23,39.87 Q131.24,36.10 132.25,32.34" fill="none" stroke="#f4a62a" stroke-width="3.20" stroke-linecap="round" stroke-dasharray="0 2.6"/>
<path d="M124.95,71.97 Q130.50,57.55 140.20,45.53" fill="none" stroke="#6b52e3" stroke-width="1.39" stroke-linecap="round"/>
<path d="M124.95,71.97 Q130.50,57.55 140.20,45.53" fill="none" stroke="#6b52e3" stroke-width="3.30" stroke-linecap="round" stroke-dasharray="0 2.85"/>
<path d="M140.50,45.01 Q142.45,41.64 144.40,38.26" fill="none" stroke="#f4a62a" stroke-width="1.92" stroke-linecap="round"/>
<path d="M140.50,45.01 Q142.45,41.64 144.40,38.26" fill="none" stroke="#f4a62a" stroke-width="3.20" stroke-linecap="round" stroke-dasharray="0 2.6"/>
<path d="M127.16,73.59 Q138.79,63.29 148.07,50.82" fill="none" stroke="#6b52e3" stroke-width="1.39" stroke-linecap="round"/>
<path d="M127.16,73.59 Q138.79,63.29 148.07,50.82" fill="none" stroke="#6b52e3" stroke-width="3.30" stroke-linecap="round" stroke-dasharray="0 2.85"/>
<path d="M148.48,50.38 Q151.11,47.51 153.75,44.64" fill="none" stroke="#f4a62a" stroke-width="1.92" stroke-linecap="round"/>
<path d="M148.48,50.38 Q151.11,47.51 153.75,44.64" fill="none" stroke="#f4a62a" stroke-width="3.20" stroke-linecap="round" stroke-dasharray="0 2.6"/>
<path d="M128.79,75.42 Q139.59,63.05 154.65,56.50" fill="none" stroke="#6b52e3" stroke-width="1.39" stroke-linecap="round"/>
<path d="M128.79,75.42 Q139.59,63.05 154.65,56.50" fill="none" stroke="#6b52e3" stroke-width="3.30" stroke-linecap="round" stroke-dasharray="0 2.85"/>
<path d="M155.13,56.14 Q158.28,53.84 161.43,51.53" fill="none" stroke="#f4a62a" stroke-width="1.92" stroke-linecap="round"/>
<path d="M155.13,56.14 Q158.28,53.84 161.43,51.53" fill="none" stroke="#f4a62a" stroke-width="3.20" stroke-linecap="round" stroke-dasharray="0 2.6"/>
<path d="M130.24,77.99 Q146.40,73.85 160.72,65.28" fill="none" stroke="#6b52e3" stroke-width="1.39" stroke-linecap="round"/>
<path d="M130.24,77.99 Q146.40,73.85 160.72,65.28" fill="none" stroke="#6b52e3" stroke-width="3.30" stroke-linecap="round" stroke-dasharray="0 2.85"/>
<path d="M161.27,65.05 Q164.87,63.55 168.47,62.05" fill="none" stroke="#f4a62a" stroke-width="1.92" stroke-linecap="round"/>
<path d="M161.27,65.05 Q164.87,63.55 168.47,62.05" fill="none" stroke="#f4a62a" stroke-width="3.20" stroke-linecap="round" stroke-dasharray="0 2.6"/>
<path d="M131.03,80.72 Q147.51,76.72 164.38,75.10" fill="none" stroke="#6b52e3" stroke-width="1.39" stroke-linecap="round"/>
<path d="M131.03,80.72 Q147.51,76.72 164.38,75.10" fill="none" stroke="#6b52e3" stroke-width="3.30" stroke-linecap="round" stroke-dasharray="0 2.85"/>
<path d="M164.98,75.00 Q168.82,74.35 172.67,73.70" fill="none" stroke="#f4a62a" stroke-width="1.92" stroke-linecap="round"/>
<path d="M164.98,75.00 Q168.82,74.35 172.67,73.70" fill="none" stroke="#f4a62a" stroke-width="3.20" stroke-linecap="round" stroke-dasharray="0 2.6"/>
<path d="M131.19,83.29 Q147.31,87.53 163.71,84.58" fill="none" stroke="#6b52e3" stroke-width="1.39" stroke-linecap="round"/>
<path d="M131.19,83.29 Q147.31,87.53 163.71,84.58" fill="none" stroke="#6b52e3" stroke-width="3.30" stroke-linecap="round" stroke-dasharray="0 2.85"/>
<path d="M164.31,84.60 Q168.21,84.76 172.10,84.91" fill="none" stroke="#f4a62a" stroke-width="1.92" stroke-linecap="round"/>
<path d="M164.31,84.60 Q168.21,84.76 172.10,84.91" fill="none" stroke="#f4a62a" stroke-width="3.20" stroke-linecap="round" stroke-dasharray="0 2.6"/>
<path d="M106.28,84.20 Q90.24,82.78 74.92,87.72" fill="none" stroke="#6b52e3" stroke-width="1.39" stroke-linecap="round"/>
<path d="M106.28,84.20 Q90.24,82.78 74.92,87.72" fill="none" stroke="#6b52e3" stroke-width="3.30" stroke-linecap="round" stroke-dasharray="0 2.85"/>
<path d="M74.32,87.79 Q70.45,88.23 66.57,88.66" fill="none" stroke="#f4a62a" stroke-width="1.92" stroke-linecap="round"/>
<path d="M74.32,87.79 Q70.45,88.23 66.57,88.66" fill="none" stroke="#f4a62a" stroke-width="3.20" stroke-linecap="round" stroke-dasharray="0 2.6"/>
<path d="M106.95,87.07 Q93.00,94.69 77.41,97.79" fill="none" stroke="#6b52e3" stroke-width="1.39" stroke-linecap="round"/>
<path d="M106.95,87.07 Q93.00,94.69 77.41,97.79" fill="none" stroke="#6b52e3" stroke-width="3.30" stroke-linecap="round" stroke-dasharray="0 2.85"/>
<path d="M76.84,98.00 Q73.18,99.33 69.51,100.66" fill="none" stroke="#f4a62a" stroke-width="1.92" stroke-linecap="round"/>
<path d="M76.84,98.00 Q73.18,99.33 69.51,100.66" fill="none" stroke="#f4a62a" stroke-width="3.20" stroke-linecap="round" stroke-dasharray="0 2.6"/>
<path d="M108.29,89.71 Q95.06,96.57 83.60,106.10" fill="none" stroke="#6b52e3" stroke-width="1.39" stroke-linecap="round"/>
<path d="M108.29,89.71 Q95.06,96.57 83.60,106.10" fill="none" stroke="#6b52e3" stroke-width="3.30" stroke-linecap="round" stroke-dasharray="0 2.85"/>
<path d="M83.10,106.43 Q79.85,108.59 76.60,110.75" fill="none" stroke="#f4a62a" stroke-width="1.92" stroke-linecap="round"/>
<path d="M83.10,106.43 Q79.85,108.59 76.60,110.75" fill="none" stroke="#f4a62a" stroke-width="3.20" stroke-linecap="round" stroke-dasharray="0 2.6"/>
<path d="M110.44,92.19 Q102.98,106.12 90.12,115.29" fill="none" stroke="#6b52e3" stroke-width="1.39" stroke-linecap="round"/>
<path d="M110.44,92.19 Q102.98,106.12 90.12,115.29" fill="none" stroke="#6b52e3" stroke-width="3.30" stroke-linecap="round" stroke-dasharray="0 2.85"/>
<path d="M89.72,115.74 Q87.15,118.67 84.57,121.60" fill="none" stroke="#f4a62a" stroke-width="1.92" stroke-linecap="round"/>
<path d="M89.72,115.74 Q87.15,118.67 84.57,121.60" fill="none" stroke="#f4a62a" stroke-width="3.20" stroke-linecap="round" stroke-dasharray="0 2.6"/>
<path d="M112.81,93.82 Q103.55,106.06 98.52,120.56" fill="none" stroke="#6b52e3" stroke-width="1.39" stroke-linecap="round"/>
<path d="M112.81,93.82 Q103.55,106.06 98.52,120.56" fill="none" stroke="#6b52e3" stroke-width="3.30" stroke-linecap="round" stroke-dasharray="0 2.85"/>
<path d="M98.24,121.09 Q96.40,124.53 94.56,127.97" fill="none" stroke="#f4a62a" stroke-width="1.92" stroke-linecap="round"/>
<path d="M98.24,121.09 Q96.40,124.53 94.56,127.97" fill="none" stroke="#f4a62a" stroke-width="3.20" stroke-linecap="round" stroke-dasharray="0 2.6"/>
<path d="M115.51,94.89 Q112.90,109.47 107.97,123.44" fill="none" stroke="#6b52e3" stroke-width="1.39" stroke-linecap="round"/>
<path d="M115.51,94.89 Q112.90,109.47 107.97,123.44" fill="none" stroke="#6b52e3" stroke-width="3.30" stroke-linecap="round" stroke-dasharray="0 2.85"/>
<path d="M107.82,124.02 Q106.82,127.79 105.83,131.56" fill="none" stroke="#f4a62a" stroke-width="1.92" stroke-linecap="round"/>
<path d="M107.82,124.02 Q106.82,127.79 105.83,131.56" fill="none" stroke="#f4a62a" stroke-width="3.20" stroke-linecap="round" stroke-dasharray="0 2.6"/>
<path d="M118.36,95.30 Q114.36,110.05 117.56,125.00" fill="none" stroke="#6b52e3" stroke-width="1.39" stroke-linecap="round"/>
<path d="M118.36,95.30 Q114.36,110.05 117.56,125.00" fill="none" stroke="#6b52e3" stroke-width="3.30" stroke-linecap="round" stroke-dasharray="0 2.85"/>
<path d="M117.54,125.60 Q117.44,129.50 117.33,133.40" fill="none" stroke="#f4a62a" stroke-width="1.92" stroke-linecap="round"/>
<path d="M117.54,125.60 Q117.44,129.50 117.33,133.40" fill="none" stroke="#f4a62a" stroke-width="3.20" stroke-linecap="round" stroke-dasharray="0 2.6"/>
<path d="M121.48,94.99 Q121.95,111.47 128.67,126.53" fill="none" stroke="#6b52e3" stroke-width="1.39" stroke-linecap="round"/>
<path d="M121.48,94.99 Q121.95,111.47 128.67,126.53" fill="none" stroke="#6b52e3" stroke-width="3.30" stroke-linecap="round" stroke-dasharray="0 2.85"/>
<path d="M128.80,127.12 Q129.67,130.92 130.53,134.72" fill="none" stroke="#f4a62a" stroke-width="1.92" stroke-linecap="round"/>
<path d="M128.80,127.12 Q129.67,130.92 130.53,134.72" fill="none" stroke="#f4a62a" stroke-width="3.20" stroke-linecap="round" stroke-dasharray="0 2.6"/>
<path d="M124.28,93.98 Q133.64,107.37 138.71,122.89" fill="none" stroke="#6b52e3" stroke-width="1.39" stroke-linecap="round"/>
<path d="M124.28,93.98 Q133.64,107.37 138.71,122.89" fill="none" stroke="#6b52e3" stroke-width="3.30" stroke-linecap="round" stroke-dasharray="0 2.85"/>
<path d="M138.97,123.43 Q140.72,126.92 142.46,130.41" fill="none" stroke="#f4a62a" stroke-width="1.92" stroke-linecap="round"/>
<path d="M138.97,123.43 Q140.72,126.92 142.46,130.41" fill="none" stroke="#f4a62a" stroke-width="3.20" stroke-linecap="round" stroke-dasharray="0 2.6"/>
<path d="M126.63,92.46 Q136.19,106.64 148.23,118.79" fill="none" stroke="#6b52e3" stroke-width="1.39" stroke-linecap="round"/>
<path d="M126.63,92.46 Q136.19,106.64 148.23,118.79" fill="none" stroke="#6b52e3" stroke-width="3.30" stroke-linecap="round" stroke-dasharray="0 2.85"/>
<path d="M148.61,119.26 Q151.08,122.27 153.56,125.29" fill="none" stroke="#f4a62a" stroke-width="1.92" stroke-linecap="round"/>
<path d="M148.61,119.26 Q151.08,122.27 153.56,125.29" fill="none" stroke="#f4a62a" stroke-width="3.20" stroke-linecap="round" stroke-dasharray="0 2.6"/>
<path d="M128.66,90.35 Q144.20,97.62 155.38,110.62" fill="none" stroke="#6b52e3" stroke-width="1.39" stroke-linecap="round"/>
<path d="M128.66,90.35 Q144.20,97.62 155.38,110.62" fill="none" stroke="#6b52e3" stroke-width="3.30" stroke-linecap="round" stroke-dasharray="0 2.85"/>
<path d="M155.86,110.99 Q158.97,113.34 162.08,115.70" fill="none" stroke="#f4a62a" stroke-width="1.92" stroke-linecap="round"/>
<path d="M155.86,110.99 Q158.97,113.34 162.08,115.70" fill="none" stroke="#f4a62a" stroke-width="3.20" stroke-linecap="round" stroke-dasharray="0 2.6"/>
<path d="M129.90,88.35 Q144.07,98.05 160.37,103.44" fill="none" stroke="#6b52e3" stroke-width="1.39" stroke-linecap="round"/>
<path d="M129.90,88.35 Q144.07,98.05 160.37,103.44" fill="none" stroke="#6b52e3" stroke-width="3.30" stroke-linecap="round" stroke-dasharray="0 2.85"/>
<path d="M160.91,103.71 Q164.40,105.44 167.90,107.17" fill="none" stroke="#f4a62a" stroke-width="1.92" stroke-linecap="round"/>
<path d="M160.91,103.71 Q164.40,105.44 167.90,107.17" fill="none" stroke="#f4a62a" stroke-width="3.20" stroke-linecap="round" stroke-dasharray="0 2.6"/>
<path d="M130.85,85.75 Q147.49,88.55 163.57,93.69" fill="none" stroke="#6b52e3" stroke-width="1.39" stroke-linecap="round"/>
<path d="M130.85,85.75 Q147.49,88.55 163.57,93.69" fill="none" stroke="#6b52e3" stroke-width="3.30" stroke-linecap="round" stroke-dasharray="0 2.85"/>
<path d="M164.16,93.83 Q167.95,94.75 171.74,95.67" fill="none" stroke="#f4a62a" stroke-width="1.92" stroke-linecap="round"/>
<path d="M164.16,93.83 Q167.95,94.75 171.74,95.67" fill="none" stroke="#f4a62a" stroke-width="3.20" stroke-linecap="round" stroke-dasharray="0 2.6"/>
<g transform="translate(60.10 76.10) rotate(-92.9) scale(0.95 0.95)" fill="#0f5f5c"><circle cx="0.00" cy="0.00" r="4.40"/><circle cx="-3.00" cy="-2.70" r="3.10"/><circle cx="2.80" cy="-3.00" r="3.10"/><circle cx="3.70" cy="1.30" r="2.80"/><circle cx="-3.70" cy="1.10" r="2.80"/><circle cx="0.30" cy="3.50" r="2.50"/><circle cx="-5.99" cy="-2.50" r="1.08"/><circle cx="-5.23" cy="-4.71" r="1.12"/><circle cx="-3.11" cy="-5.70" r="1.27"/><circle cx="2.65" cy="-6.00" r="1.09"/><circle cx="4.85" cy="-5.19" r="1.10"/><circle cx="5.80" cy="-3.06" r="1.13"/><circle cx="6.12" cy="0.10" r="0.97"/><circle cx="6.25" cy="2.20" r="1.10"/><circle cx="4.83" cy="3.75" r="1.15"/><circle cx="-4.95" cy="3.49" r="1.22"/><circle cx="-6.29" cy="1.87" r="0.94"/><circle cx="-6.06" cy="-0.22" r="1.02"/><circle cx="2.16" cy="5.02" r="0.94"/><circle cx="0.50" cy="5.89" r="1.22"/><circle cx="-1.27" cy="5.31" r="1.18"/></g>
<g transform="translate(65.20 62.70) rotate(-74.1) scale(-0.95 0.95)" fill="#0f5f5c"><circle cx="0.00" cy="0.00" r="4.40"/><circle cx="-3.00" cy="-2.70" r="3.10"/><circle cx="2.80" cy="-3.00" r="3.10"/><circle cx="3.70" cy="1.30" r="2.80"/><circle cx="-3.70" cy="1.10" r="2.80"/><circle cx="0.30" cy="3.50" r="2.50"/><circle cx="-5.99" cy="-2.50" r="1.08"/><circle cx="-5.23" cy="-4.71" r="1.12"/><circle cx="-3.11" cy="-5.70" r="1.27"/><circle cx="2.65" cy="-6.00" r="1.09"/><circle cx="4.85" cy="-5.19" r="1.10"/><circle cx="5.80" cy="-3.06" r="1.13"/><circle cx="6.12" cy="0.10" r="0.97"/><circle cx="6.25" cy="2.20" r="1.10"/><circle cx="4.83" cy="3.75" r="1.15"/><circle cx="-4.95" cy="3.49" r="1.22"/><circle cx="-6.29" cy="1.87" r="0.94"/><circle cx="-6.06" cy="-0.22" r="1.02"/><circle cx="2.16" cy="5.02" r="0.94"/><circle cx="0.50" cy="5.89" r="1.22"/><circle cx="-1.27" cy="5.31" r="1.18"/></g>
<g transform="translate(70.00 50.60) rotate(-52.0) scale(0.95 0.95)" fill="#0f5f5c"><circle cx="0.00" cy="0.00" r="4.40"/><circle cx="-3.00" cy="-2.70" r="3.10"/><circle cx="2.80" cy="-3.00" r="3.10"/><circle cx="3.70" cy="1.30" r="2.80"/><circle cx="-3.70" cy="1.10" r="2.80"/><circle cx="0.30" cy="3.50" r="2.50"/><circle cx="-5.99" cy="-2.50" r="1.08"/><circle cx="-5.23" cy="-4.71" r="1.12"/><circle cx="-3.11" cy="-5.70" r="1.27"/><circle cx="2.65" cy="-6.00" r="1.09"/><circle cx="4.85" cy="-5.19" r="1.10"/><circle cx="5.80" cy="-3.06" r="1.13"/><circle cx="6.12" cy="0.10" r="0.97"/><circle cx="6.25" cy="2.20" r="1.10"/><circle cx="4.83" cy="3.75" r="1.15"/><circle cx="-4.95" cy="3.49" r="1.22"/><circle cx="-6.29" cy="1.87" r="0.94"/><circle cx="-6.06" cy="-0.22" r="1.02"/><circle cx="2.16" cy="5.02" r="0.94"/><circle cx="0.50" cy="5.89" r="1.22"/><circle cx="-1.27" cy="5.31" r="1.18"/></g>
<g transform="translate(81.50 41.50) rotate(-38.2) scale(-0.95 0.95)" fill="#0f5f5c"><circle cx="0.00" cy="0.00" r="4.40"/><circle cx="-3.00" cy="-2.70" r="3.10"/><circle cx="2.80" cy="-3.00" r="3.10"/><circle cx="3.70" cy="1.30" r="2.80"/><circle cx="-3.70" cy="1.10" r="2.80"/><circle cx="0.30" cy="3.50" r="2.50"/><circle cx="-5.99" cy="-2.50" r="1.08"/><circle cx="-5.23" cy="-4.71" r="1.12"/><circle cx="-3.11" cy="-5.70" r="1.27"/><circle cx="2.65" cy="-6.00" r="1.09"/><circle cx="4.85" cy="-5.19" r="1.10"/><circle cx="5.80" cy="-3.06" r="1.13"/><circle cx="6.12" cy="0.10" r="0.97"/><circle cx="6.25" cy="2.20" r="1.10"/><circle cx="4.83" cy="3.75" r="1.15"/><circle cx="-4.95" cy="3.49" r="1.22"/><circle cx="-6.29" cy="1.87" r="0.94"/><circle cx="-6.06" cy="-0.22" r="1.02"/><circle cx="2.16" cy="5.02" r="0.94"/><circle cx="0.50" cy="5.89" r="1.22"/><circle cx="-1.27" cy="5.31" r="1.18"/></g>
<g transform="translate(93.80 32.60) rotate(-35.0) scale(0.95 0.95)" fill="#0f5f5c"><circle cx="0.00" cy="0.00" r="4.40"/><circle cx="-3.00" cy="-2.70" r="3.10"/><circle cx="2.80" cy="-3.00" r="3.10"/><circle cx="3.70" cy="1.30" r="2.80"/><circle cx="-3.70" cy="1.10" r="2.80"/><circle cx="0.30" cy="3.50" r="2.50"/><circle cx="-5.99" cy="-2.50" r="1.08"/><circle cx="-5.23" cy="-4.71" r="1.12"/><circle cx="-3.11" cy="-5.70" r="1.27"/><circle cx="2.65" cy="-6.00" r="1.09"/><circle cx="4.85" cy="-5.19" r="1.10"/><circle cx="5.80" cy="-3.06" r="1.13"/><circle cx="6.12" cy="0.10" r="0.97"/><circle cx="6.25" cy="2.20" r="1.10"/><circle cx="4.83" cy="3.75" r="1.15"/><circle cx="-4.95" cy="3.49" r="1.22"/><circle cx="-6.29" cy="1.87" r="0.94"/><circle cx="-6.06" cy="-0.22" r="1.02"/><circle cx="2.16" cy="5.02" r="0.94"/><circle cx="0.50" cy="5.89" r="1.22"/><circle cx="-1.27" cy="5.31" r="1.18"/></g>
<g transform="translate(106.50 27.70) rotate(-23.6) scale(-0.95 0.95)" fill="#0f5f5c"><circle cx="0.00" cy="0.00" r="4.40"/><circle cx="-3.00" cy="-2.70" r="3.10"/><circle cx="2.80" cy="-3.00" r="3.10"/><circle cx="3.70" cy="1.30" r="2.80"/><circle cx="-3.70" cy="1.10" r="2.80"/><circle cx="0.30" cy="3.50" r="2.50"/><circle cx="-5.99" cy="-2.50" r="1.08"/><circle cx="-5.23" cy="-4.71" r="1.12"/><circle cx="-3.11" cy="-5.70" r="1.27"/><circle cx="2.65" cy="-6.00" r="1.09"/><circle cx="4.85" cy="-5.19" r="1.10"/><circle cx="5.80" cy="-3.06" r="1.13"/><circle cx="6.12" cy="0.10" r="0.97"/><circle cx="6.25" cy="2.20" r="1.10"/><circle cx="4.83" cy="3.75" r="1.15"/><circle cx="-4.95" cy="3.49" r="1.22"/><circle cx="-6.29" cy="1.87" r="0.94"/><circle cx="-6.06" cy="-0.22" r="1.02"/><circle cx="2.16" cy="5.02" r="0.94"/><circle cx="0.50" cy="5.89" r="1.22"/><circle cx="-1.27" cy="5.31" r="1.18"/></g>
<g transform="translate(120.30 26.60) rotate(3.1) scale(-0.95 0.95)" fill="#0f5f5c"><circle cx="0.00" cy="0.00" r="4.40"/><circle cx="-3.00" cy="-2.70" r="3.10"/><circle cx="2.80" cy="-3.00" r="3.10"/><circle cx="3.70" cy="1.30" r="2.80"/><circle cx="-3.70" cy="1.10" r="2.80"/><circle cx="0.30" cy="3.50" r="2.50"/><circle cx="-5.99" cy="-2.50" r="1.08"/><circle cx="-5.23" cy="-4.71" r="1.12"/><circle cx="-3.11" cy="-5.70" r="1.27"/><circle cx="2.65" cy="-6.00" r="1.09"/><circle cx="4.85" cy="-5.19" r="1.10"/><circle cx="5.80" cy="-3.06" r="1.13"/><circle cx="6.12" cy="0.10" r="0.97"/><circle cx="6.25" cy="2.20" r="1.10"/><circle cx="4.83" cy="3.75" r="1.15"/><circle cx="-4.95" cy="3.49" r="1.22"/><circle cx="-6.29" cy="1.87" r="0.94"/><circle cx="-6.06" cy="-0.22" r="1.02"/><circle cx="2.16" cy="5.02" r="0.94"/><circle cx="0.50" cy="5.89" r="1.22"/><circle cx="-1.27" cy="5.31" r="1.18"/></g>
<g transform="translate(133.50 27.70) rotate(11.3) scale(0.95 0.95)" fill="#0f5f5c"><circle cx="0.00" cy="0.00" r="4.40"/><circle cx="-3.00" cy="-2.70" r="3.10"/><circle cx="2.80" cy="-3.00" r="3.10"/><circle cx="3.70" cy="1.30" r="2.80"/><circle cx="-3.70" cy="1.10" r="2.80"/><circle cx="0.30" cy="3.50" r="2.50"/><circle cx="-5.99" cy="-2.50" r="1.08"/><circle cx="-5.23" cy="-4.71" r="1.12"/><circle cx="-3.11" cy="-5.70" r="1.27"/><circle cx="2.65" cy="-6.00" r="1.09"/><circle cx="4.85" cy="-5.19" r="1.10"/><circle cx="5.80" cy="-3.06" r="1.13"/><circle cx="6.12" cy="0.10" r="0.97"/><circle cx="6.25" cy="2.20" r="1.10"/><circle cx="4.83" cy="3.75" r="1.15"/><circle cx="-4.95" cy="3.49" r="1.22"/><circle cx="-6.29" cy="1.87" r="0.94"/><circle cx="-6.06" cy="-0.22" r="1.02"/><circle cx="2.16" cy="5.02" r="0.94"/><circle cx="0.50" cy="5.89" r="1.22"/><circle cx="-1.27" cy="5.31" r="1.18"/></g>
<g transform="translate(146.80 34.10) rotate(20.3) scale(0.95 0.95)" fill="#0f5f5c"><circle cx="0.00" cy="0.00" r="4.40"/><circle cx="-3.00" cy="-2.70" r="3.10"/><circle cx="2.80" cy="-3.00" r="3.10"/><circle cx="3.70" cy="1.30" r="2.80"/><circle cx="-3.70" cy="1.10" r="2.80"/><circle cx="0.30" cy="3.50" r="2.50"/><circle cx="-5.99" cy="-2.50" r="1.08"/><circle cx="-5.23" cy="-4.71" r="1.12"/><circle cx="-3.11" cy="-5.70" r="1.27"/><circle cx="2.65" cy="-6.00" r="1.09"/><circle cx="4.85" cy="-5.19" r="1.10"/><circle cx="5.80" cy="-3.06" r="1.13"/><circle cx="6.12" cy="0.10" r="0.97"/><circle cx="6.25" cy="2.20" r="1.10"/><circle cx="4.83" cy="3.75" r="1.15"/><circle cx="-4.95" cy="3.49" r="1.22"/><circle cx="-6.29" cy="1.87" r="0.94"/><circle cx="-6.06" cy="-0.22" r="1.02"/><circle cx="2.16" cy="5.02" r="0.94"/><circle cx="0.50" cy="5.89" r="1.22"/><circle cx="-1.27" cy="5.31" r="1.18"/></g>
<g transform="translate(157.00 41.10) rotate(55.8) scale(-0.95 0.95)" fill="#0f5f5c"><circle cx="0.00" cy="0.00" r="4.40"/><circle cx="-3.00" cy="-2.70" r="3.10"/><circle cx="2.80" cy="-3.00" r="3.10"/><circle cx="3.70" cy="1.30" r="2.80"/><circle cx="-3.70" cy="1.10" r="2.80"/><circle cx="0.30" cy="3.50" r="2.50"/><circle cx="-5.99" cy="-2.50" r="1.08"/><circle cx="-5.23" cy="-4.71" r="1.12"/><circle cx="-3.11" cy="-5.70" r="1.27"/><circle cx="2.65" cy="-6.00" r="1.09"/><circle cx="4.85" cy="-5.19" r="1.10"/><circle cx="5.80" cy="-3.06" r="1.13"/><circle cx="6.12" cy="0.10" r="0.97"/><circle cx="6.25" cy="2.20" r="1.10"/><circle cx="4.83" cy="3.75" r="1.15"/><circle cx="-4.95" cy="3.49" r="1.22"/><circle cx="-6.29" cy="1.87" r="0.94"/><circle cx="-6.06" cy="-0.22" r="1.02"/><circle cx="2.16" cy="5.02" r="0.94"/><circle cx="0.50" cy="5.89" r="1.22"/><circle cx="-1.27" cy="5.31" r="1.18"/></g>
<g transform="translate(165.30 48.70) rotate(62.5) scale(0.95 0.95)" fill="#0f5f5c"><circle cx="0.00" cy="0.00" r="4.40"/><circle cx="-3.00" cy="-2.70" r="3.10"/><circle cx="2.80" cy="-3.00" r="3.10"/><circle cx="3.70" cy="1.30" r="2.80"/><circle cx="-3.70" cy="1.10" r="2.80"/><circle cx="0.30" cy="3.50" r="2.50"/><circle cx="-5.99" cy="-2.50" r="1.08"/><circle cx="-5.23" cy="-4.71" r="1.12"/><circle cx="-3.11" cy="-5.70" r="1.27"/><circle cx="2.65" cy="-6.00" r="1.09"/><circle cx="4.85" cy="-5.19" r="1.10"/><circle cx="5.80" cy="-3.06" r="1.13"/><circle cx="6.12" cy="0.10" r="0.97"/><circle cx="6.25" cy="2.20" r="1.10"/><circle cx="4.83" cy="3.75" r="1.15"/><circle cx="-4.95" cy="3.49" r="1.22"/><circle cx="-6.29" cy="1.87" r="0.94"/><circle cx="-6.06" cy="-0.22" r="1.02"/><circle cx="2.16" cy="5.02" r="0.94"/><circle cx="0.50" cy="5.89" r="1.22"/><circle cx="-1.27" cy="5.31" r="1.18"/></g>
<g transform="translate(172.90 60.20) rotate(55.1) scale(0.95 0.95)" fill="#0f5f5c"><circle cx="0.00" cy="0.00" r="4.40"/><circle cx="-3.00" cy="-2.70" r="3.10"/><circle cx="2.80" cy="-3.00" r="3.10"/><circle cx="3.70" cy="1.30" r="2.80"/><circle cx="-3.70" cy="1.10" r="2.80"/><circle cx="0.30" cy="3.50" r="2.50"/><circle cx="-5.99" cy="-2.50" r="1.08"/><circle cx="-5.23" cy="-4.71" r="1.12"/><circle cx="-3.11" cy="-5.70" r="1.27"/><circle cx="2.65" cy="-6.00" r="1.09"/><circle cx="4.85" cy="-5.19" r="1.10"/><circle cx="5.80" cy="-3.06" r="1.13"/><circle cx="6.12" cy="0.10" r="0.97"/><circle cx="6.25" cy="2.20" r="1.10"/><circle cx="4.83" cy="3.75" r="1.15"/><circle cx="-4.95" cy="3.49" r="1.22"/><circle cx="-6.29" cy="1.87" r="0.94"/><circle cx="-6.06" cy="-0.22" r="1.02"/><circle cx="2.16" cy="5.02" r="0.94"/><circle cx="0.50" cy="5.89" r="1.22"/><circle cx="-1.27" cy="5.31" r="1.18"/></g>
<g transform="translate(177.40 72.90) rotate(73.3) scale(0.95 0.95)" fill="#0f5f5c"><circle cx="0.00" cy="0.00" r="4.40"/><circle cx="-3.00" cy="-2.70" r="3.10"/><circle cx="2.80" cy="-3.00" r="3.10"/><circle cx="3.70" cy="1.30" r="2.80"/><circle cx="-3.70" cy="1.10" r="2.80"/><circle cx="0.30" cy="3.50" r="2.50"/><circle cx="-5.99" cy="-2.50" r="1.08"/><circle cx="-5.23" cy="-4.71" r="1.12"/><circle cx="-3.11" cy="-5.70" r="1.27"/><circle cx="2.65" cy="-6.00" r="1.09"/><circle cx="4.85" cy="-5.19" r="1.10"/><circle cx="5.80" cy="-3.06" r="1.13"/><circle cx="6.12" cy="0.10" r="0.97"/><circle cx="6.25" cy="2.20" r="1.10"/><circle cx="4.83" cy="3.75" r="1.15"/><circle cx="-4.95" cy="3.49" r="1.22"/><circle cx="-6.29" cy="1.87" r="0.94"/><circle cx="-6.06" cy="-0.22" r="1.02"/><circle cx="2.16" cy="5.02" r="0.94"/><circle cx="0.50" cy="5.89" r="1.22"/><circle cx="-1.27" cy="5.31" r="1.18"/></g>
<g transform="translate(176.90 85.10) rotate(103.9) scale(-0.95 0.95)" fill="#0f5f5c"><circle cx="0.00" cy="0.00" r="4.40"/><circle cx="-3.00" cy="-2.70" r="3.10"/><circle cx="2.80" cy="-3.00" r="3.10"/><circle cx="3.70" cy="1.30" r="2.80"/><circle cx="-3.70" cy="1.10" r="2.80"/><circle cx="0.30" cy="3.50" r="2.50"/><circle cx="-5.99" cy="-2.50" r="1.08"/><circle cx="-5.23" cy="-4.71" r="1.12"/><circle cx="-3.11" cy="-5.70" r="1.27"/><circle cx="2.65" cy="-6.00" r="1.09"/><circle cx="4.85" cy="-5.19" r="1.10"/><circle cx="5.80" cy="-3.06" r="1.13"/><circle cx="6.12" cy="0.10" r="0.97"/><circle cx="6.25" cy="2.20" r="1.10"/><circle cx="4.83" cy="3.75" r="1.15"/><circle cx="-4.95" cy="3.49" r="1.22"/><circle cx="-6.29" cy="1.87" r="0.94"/><circle cx="-6.06" cy="-0.22" r="1.02"/><circle cx="2.16" cy="5.02" r="0.94"/><circle cx="0.50" cy="5.89" r="1.22"/><circle cx="-1.27" cy="5.31" r="1.18"/></g>
<g transform="translate(61.80 89.20) rotate(262.6) scale(-0.95 0.95)" fill="#0f5f5c"><circle cx="0.00" cy="0.00" r="4.40"/><circle cx="-3.00" cy="-2.70" r="3.10"/><circle cx="2.80" cy="-3.00" r="3.10"/><circle cx="3.70" cy="1.30" r="2.80"/><circle cx="-3.70" cy="1.10" r="2.80"/><circle cx="0.30" cy="3.50" r="2.50"/><circle cx="-5.99" cy="-2.50" r="1.08"/><circle cx="-5.23" cy="-4.71" r="1.12"/><circle cx="-3.11" cy="-5.70" r="1.27"/><circle cx="2.65" cy="-6.00" r="1.09"/><circle cx="4.85" cy="-5.19" r="1.10"/><circle cx="5.80" cy="-3.06" r="1.13"/><circle cx="6.12" cy="0.10" r="0.97"/><circle cx="6.25" cy="2.20" r="1.10"/><circle cx="4.83" cy="3.75" r="1.15"/><circle cx="-4.95" cy="3.49" r="1.22"/><circle cx="-6.29" cy="1.87" r="0.94"/><circle cx="-6.06" cy="-0.22" r="1.02"/><circle cx="2.16" cy="5.02" r="0.94"/><circle cx="0.50" cy="5.89" r="1.22"/><circle cx="-1.27" cy="5.31" r="1.18"/></g>
<g transform="translate(65.00 102.30) rotate(257.8) scale(-0.95 0.95)" fill="#0f5f5c"><circle cx="0.00" cy="0.00" r="4.40"/><circle cx="-3.00" cy="-2.70" r="3.10"/><circle cx="2.80" cy="-3.00" r="3.10"/><circle cx="3.70" cy="1.30" r="2.80"/><circle cx="-3.70" cy="1.10" r="2.80"/><circle cx="0.30" cy="3.50" r="2.50"/><circle cx="-5.99" cy="-2.50" r="1.08"/><circle cx="-5.23" cy="-4.71" r="1.12"/><circle cx="-3.11" cy="-5.70" r="1.27"/><circle cx="2.65" cy="-6.00" r="1.09"/><circle cx="4.85" cy="-5.19" r="1.10"/><circle cx="5.80" cy="-3.06" r="1.13"/><circle cx="6.12" cy="0.10" r="0.97"/><circle cx="6.25" cy="2.20" r="1.10"/><circle cx="4.83" cy="3.75" r="1.15"/><circle cx="-4.95" cy="3.49" r="1.22"/><circle cx="-6.29" cy="1.87" r="0.94"/><circle cx="-6.06" cy="-0.22" r="1.02"/><circle cx="2.16" cy="5.02" r="0.94"/><circle cx="0.50" cy="5.89" r="1.22"/><circle cx="-1.27" cy="5.31" r="1.18"/></g>
<g transform="translate(72.60 113.40) rotate(232.6) scale(-0.95 0.95)" fill="#0f5f5c"><circle cx="0.00" cy="0.00" r="4.40"/><circle cx="-3.00" cy="-2.70" r="3.10"/><circle cx="2.80" cy="-3.00" r="3.10"/><circle cx="3.70" cy="1.30" r="2.80"/><circle cx="-3.70" cy="1.10" r="2.80"/><circle cx="0.30" cy="3.50" r="2.50"/><circle cx="-5.99" cy="-2.50" r="1.08"/><circle cx="-5.23" cy="-4.71" r="1.12"/><circle cx="-3.11" cy="-5.70" r="1.27"/><circle cx="2.65" cy="-6.00" r="1.09"/><circle cx="4.85" cy="-5.19" r="1.10"/><circle cx="5.80" cy="-3.06" r="1.13"/><circle cx="6.12" cy="0.10" r="0.97"/><circle cx="6.25" cy="2.20" r="1.10"/><circle cx="4.83" cy="3.75" r="1.15"/><circle cx="-4.95" cy="3.49" r="1.22"/><circle cx="-6.29" cy="1.87" r="0.94"/><circle cx="-6.06" cy="-0.22" r="1.02"/><circle cx="2.16" cy="5.02" r="0.94"/><circle cx="0.50" cy="5.89" r="1.22"/><circle cx="-1.27" cy="5.31" r="1.18"/></g>
<g transform="translate(81.40 125.20) rotate(238.0) scale(0.95 0.95)" fill="#0f5f5c"><circle cx="0.00" cy="0.00" r="4.40"/><circle cx="-3.00" cy="-2.70" r="3.10"/><circle cx="2.80" cy="-3.00" r="3.10"/><circle cx="3.70" cy="1.30" r="2.80"/><circle cx="-3.70" cy="1.10" r="2.80"/><circle cx="0.30" cy="3.50" r="2.50"/><circle cx="-5.99" cy="-2.50" r="1.08"/><circle cx="-5.23" cy="-4.71" r="1.12"/><circle cx="-3.11" cy="-5.70" r="1.27"/><circle cx="2.65" cy="-6.00" r="1.09"/><circle cx="4.85" cy="-5.19" r="1.10"/><circle cx="5.80" cy="-3.06" r="1.13"/><circle cx="6.12" cy="0.10" r="0.97"/><circle cx="6.25" cy="2.20" r="1.10"/><circle cx="4.83" cy="3.75" r="1.15"/><circle cx="-4.95" cy="3.49" r="1.22"/><circle cx="-6.29" cy="1.87" r="0.94"/><circle cx="-6.06" cy="-0.22" r="1.02"/><circle cx="2.16" cy="5.02" r="0.94"/><circle cx="0.50" cy="5.89" r="1.22"/><circle cx="-1.27" cy="5.31" r="1.18"/></g>
<g transform="translate(92.30 132.20) rotate(221.8) scale(0.95 0.95)" fill="#0f5f5c"><circle cx="0.00" cy="0.00" r="4.40"/><circle cx="-3.00" cy="-2.70" r="3.10"/><circle cx="2.80" cy="-3.00" r="3.10"/><circle cx="3.70" cy="1.30" r="2.80"/><circle cx="-3.70" cy="1.10" r="2.80"/><circle cx="0.30" cy="3.50" r="2.50"/><circle cx="-5.99" cy="-2.50" r="1.08"/><circle cx="-5.23" cy="-4.71" r="1.12"/><circle cx="-3.11" cy="-5.70" r="1.27"/><circle cx="2.65" cy="-6.00" r="1.09"/><circle cx="4.85" cy="-5.19" r="1.10"/><circle cx="5.80" cy="-3.06" r="1.13"/><circle cx="6.12" cy="0.10" r="0.97"/><circle cx="6.25" cy="2.20" r="1.10"/><circle cx="4.83" cy="3.75" r="1.15"/><circle cx="-4.95" cy="3.49" r="1.22"/><circle cx="-6.29" cy="1.87" r="0.94"/><circle cx="-6.06" cy="-0.22" r="1.02"/><circle cx="2.16" cy="5.02" r="0.94"/><circle cx="0.50" cy="5.89" r="1.22"/><circle cx="-1.27" cy="5.31" r="1.18"/></g>
<g transform="translate(104.60 136.20) rotate(178.1) scale(-0.95 0.95)" fill="#0f5f5c"><circle cx="0.00" cy="0.00" r="4.40"/><circle cx="-3.00" cy="-2.70" r="3.10"/><circle cx="2.80" cy="-3.00" r="3.10"/><circle cx="3.70" cy="1.30" r="2.80"/><circle cx="-3.70" cy="1.10" r="2.80"/><circle cx="0.30" cy="3.50" r="2.50"/><circle cx="-5.99" cy="-2.50" r="1.08"/><circle cx="-5.23" cy="-4.71" r="1.12"/><circle cx="-3.11" cy="-5.70" r="1.27"/><circle cx="2.65" cy="-6.00" r="1.09"/><circle cx="4.85" cy="-5.19" r="1.10"/><circle cx="5.80" cy="-3.06" r="1.13"/><circle cx="6.12" cy="0.10" r="0.97"/><circle cx="6.25" cy="2.20" r="1.10"/><circle cx="4.83" cy="3.75" r="1.15"/><circle cx="-4.95" cy="3.49" r="1.22"/><circle cx="-6.29" cy="1.87" r="0.94"/><circle cx="-6.06" cy="-0.22" r="1.02"/><circle cx="2.16" cy="5.02" r="0.94"/><circle cx="0.50" cy="5.89" r="1.22"/><circle cx="-1.27" cy="5.31" r="1.18"/></g>
<g transform="translate(117.20 138.20) rotate(171.4) scale(-0.95 0.95)" fill="#0f5f5c"><circle cx="0.00" cy="0.00" r="4.40"/><circle cx="-3.00" cy="-2.70" r="3.10"/><circle cx="2.80" cy="-3.00" r="3.10"/><circle cx="3.70" cy="1.30" r="2.80"/><circle cx="-3.70" cy="1.10" r="2.80"/><circle cx="0.30" cy="3.50" r="2.50"/><circle cx="-5.99" cy="-2.50" r="1.08"/><circle cx="-5.23" cy="-4.71" r="1.12"/><circle cx="-3.11" cy="-5.70" r="1.27"/><circle cx="2.65" cy="-6.00" r="1.09"/><circle cx="4.85" cy="-5.19" r="1.10"/><circle cx="5.80" cy="-3.06" r="1.13"/><circle cx="6.12" cy="0.10" r="0.97"/><circle cx="6.25" cy="2.20" r="1.10"/><circle cx="4.83" cy="3.75" r="1.15"/><circle cx="-4.95" cy="3.49" r="1.22"/><circle cx="-6.29" cy="1.87" r="0.94"/><circle cx="-6.06" cy="-0.22" r="1.02"/><circle cx="2.16" cy="5.02" r="0.94"/><circle cx="0.50" cy="5.89" r="1.22"/><circle cx="-1.27" cy="5.31" r="1.18"/></g>
<g transform="translate(131.60 139.40) rotate(177.2) scale(-0.95 0.95)" fill="#0f5f5c"><circle cx="0.00" cy="0.00" r="4.40"/><circle cx="-3.00" cy="-2.70" r="3.10"/><circle cx="2.80" cy="-3.00" r="3.10"/><circle cx="3.70" cy="1.30" r="2.80"/><circle cx="-3.70" cy="1.10" r="2.80"/><circle cx="0.30" cy="3.50" r="2.50"/><circle cx="-5.99" cy="-2.50" r="1.08"/><circle cx="-5.23" cy="-4.71" r="1.12"/><circle cx="-3.11" cy="-5.70" r="1.27"/><circle cx="2.65" cy="-6.00" r="1.09"/><circle cx="4.85" cy="-5.19" r="1.10"/><circle cx="5.80" cy="-3.06" r="1.13"/><circle cx="6.12" cy="0.10" r="0.97"/><circle cx="6.25" cy="2.20" r="1.10"/><circle cx="4.83" cy="3.75" r="1.15"/><circle cx="-4.95" cy="3.49" r="1.22"/><circle cx="-6.29" cy="1.87" r="0.94"/><circle cx="-6.06" cy="-0.22" r="1.02"/><circle cx="2.16" cy="5.02" r="0.94"/><circle cx="0.50" cy="5.89" r="1.22"/><circle cx="-1.27" cy="5.31" r="1.18"/></g>
<g transform="translate(144.60 134.70) rotate(150.6) scale(-0.95 0.95)" fill="#0f5f5c"><circle cx="0.00" cy="0.00" r="4.40"/><circle cx="-3.00" cy="-2.70" r="3.10"/><circle cx="2.80" cy="-3.00" r="3.10"/><circle cx="3.70" cy="1.30" r="2.80"/><circle cx="-3.70" cy="1.10" r="2.80"/><circle cx="0.30" cy="3.50" r="2.50"/><circle cx="-5.99" cy="-2.50" r="1.08"/><circle cx="-5.23" cy="-4.71" r="1.12"/><circle cx="-3.11" cy="-5.70" r="1.27"/><circle cx="2.65" cy="-6.00" r="1.09"/><circle cx="4.85" cy="-5.19" r="1.10"/><circle cx="5.80" cy="-3.06" r="1.13"/><circle cx="6.12" cy="0.10" r="0.97"/><circle cx="6.25" cy="2.20" r="1.10"/><circle cx="4.83" cy="3.75" r="1.15"/><circle cx="-4.95" cy="3.49" r="1.22"/><circle cx="-6.29" cy="1.87" r="0.94"/><circle cx="-6.06" cy="-0.22" r="1.02"/><circle cx="2.16" cy="5.02" r="0.94"/><circle cx="0.50" cy="5.89" r="1.22"/><circle cx="-1.27" cy="5.31" r="1.18"/></g>
<g transform="translate(156.60 129.00) rotate(143.3) scale(-0.95 0.95)" fill="#0f5f5c"><circle cx="0.00" cy="0.00" r="4.40"/><circle cx="-3.00" cy="-2.70" r="3.10"/><circle cx="2.80" cy="-3.00" r="3.10"/><circle cx="3.70" cy="1.30" r="2.80"/><circle cx="-3.70" cy="1.10" r="2.80"/><circle cx="0.30" cy="3.50" r="2.50"/><circle cx="-5.99" cy="-2.50" r="1.08"/><circle cx="-5.23" cy="-4.71" r="1.12"/><circle cx="-3.11" cy="-5.70" r="1.27"/><circle cx="2.65" cy="-6.00" r="1.09"/><circle cx="4.85" cy="-5.19" r="1.10"/><circle cx="5.80" cy="-3.06" r="1.13"/><circle cx="6.12" cy="0.10" r="0.97"/><circle cx="6.25" cy="2.20" r="1.10"/><circle cx="4.83" cy="3.75" r="1.15"/><circle cx="-4.95" cy="3.49" r="1.22"/><circle cx="-6.29" cy="1.87" r="0.94"/><circle cx="-6.06" cy="-0.22" r="1.02"/><circle cx="2.16" cy="5.02" r="0.94"/><circle cx="0.50" cy="5.89" r="1.22"/><circle cx="-1.27" cy="5.31" r="1.18"/></g>
<g transform="translate(165.90 118.60) rotate(130.2) scale(-0.95 0.95)" fill="#0f5f5c"><circle cx="0.00" cy="0.00" r="4.40"/><circle cx="-3.00" cy="-2.70" r="3.10"/><circle cx="2.80" cy="-3.00" r="3.10"/><circle cx="3.70" cy="1.30" r="2.80"/><circle cx="-3.70" cy="1.10" r="2.80"/><circle cx="0.30" cy="3.50" r="2.50"/><circle cx="-5.99" cy="-2.50" r="1.08"/><circle cx="-5.23" cy="-4.71" r="1.12"/><circle cx="-3.11" cy="-5.70" r="1.27"/><circle cx="2.65" cy="-6.00" r="1.09"/><circle cx="4.85" cy="-5.19" r="1.10"/><circle cx="5.80" cy="-3.06" r="1.13"/><circle cx="6.12" cy="0.10" r="0.97"/><circle cx="6.25" cy="2.20" r="1.10"/><circle cx="4.83" cy="3.75" r="1.15"/><circle cx="-4.95" cy="3.49" r="1.22"/><circle cx="-6.29" cy="1.87" r="0.94"/><circle cx="-6.06" cy="-0.22" r="1.02"/><circle cx="2.16" cy="5.02" r="0.94"/><circle cx="0.50" cy="5.89" r="1.22"/><circle cx="-1.27" cy="5.31" r="1.18"/></g>
<g transform="translate(172.20 109.30) rotate(122.9) scale(0.95 0.95)" fill="#0f5f5c"><circle cx="0.00" cy="0.00" r="4.40"/><circle cx="-3.00" cy="-2.70" r="3.10"/><circle cx="2.80" cy="-3.00" r="3.10"/><circle cx="3.70" cy="1.30" r="2.80"/><circle cx="-3.70" cy="1.10" r="2.80"/><circle cx="0.30" cy="3.50" r="2.50"/><circle cx="-5.99" cy="-2.50" r="1.08"/><circle cx="-5.23" cy="-4.71" r="1.12"/><circle cx="-3.11" cy="-5.70" r="1.27"/><circle cx="2.65" cy="-6.00" r="1.09"/><circle cx="4.85" cy="-5.19" r="1.10"/><circle cx="5.80" cy="-3.06" r="1.13"/><circle cx="6.12" cy="0.10" r="0.97"/><circle cx="6.25" cy="2.20" r="1.10"/><circle cx="4.83" cy="3.75" r="1.15"/><circle cx="-4.95" cy="3.49" r="1.22"/><circle cx="-6.29" cy="1.87" r="0.94"/><circle cx="-6.06" cy="-0.22" r="1.02"/><circle cx="2.16" cy="5.02" r="0.94"/><circle cx="0.50" cy="5.89" r="1.22"/><circle cx="-1.27" cy="5.31" r="1.18"/></g>
<g transform="translate(176.40 96.80) rotate(116.5) scale(0.95 0.95)" fill="#0f5f5c"><circle cx="0.00" cy="0.00" r="4.40"/><circle cx="-3.00" cy="-2.70" r="3.10"/><circle cx="2.80" cy="-3.00" r="3.10"/><circle cx="3.70" cy="1.30" r="2.80"/><circle cx="-3.70" cy="1.10" r="2.80"/><circle cx="0.30" cy="3.50" r="2.50"/><circle cx="-5.99" cy="-2.50" r="1.08"/><circle cx="-5.23" cy="-4.71" r="1.12"/><circle cx="-3.11" cy="-5.70" r="1.27"/><circle cx="2.65" cy="-6.00" r="1.09"/><circle cx="4.85" cy="-5.19" r="1.10"/><circle cx="5.80" cy="-3.06" r="1.13"/><circle cx="6.12" cy="0.10" r="0.97"/><circle cx="6.25" cy="2.20" r="1.10"/><circle cx="4.83" cy="3.75" r="1.15"/><circle cx="-4.95" cy="3.49" r="1.22"/><circle cx="-6.29" cy="1.87" r="0.94"/><circle cx="-6.06" cy="-0.22" r="1.02"/><circle cx="2.16" cy="5.02" r="0.94"/><circle cx="0.50" cy="5.89" r="1.22"/><circle cx="-1.27" cy="5.31" r="1.18"/></g>
<circle cx="118.50" cy="84.20" r="4.10" fill="#ea6434" />
<circle cx="109.80" cy="80.80" r="4.10" fill="#ea6434" />
<circle cx="118.00" cy="76.70" r="4.10" fill="#ea6434" />
<circle cx="126.70" cy="77.60" r="4.10" fill="#ea6434" />
<circle cx="129.60" cy="84.90" r="4.10" fill="#ea6434" />
<circle cx="127.30" cy="92.10" r="4.10" fill="#ea6434" />
<circle cx="119.10" cy="91.20" r="4.10" fill="#ea6434" />
<circle cx="113.30" cy="87.70" r="4.10" fill="#ea6434" />
<rect x="122.3" y="31.5" width="68.8" height="57.7" fill="none" stroke="#4a4a4a" stroke-width="1.1"/>
<line x1="192.3" y1="29.9" x2="267.7" y2="39.3" stroke="#3a3a3a" stroke-width="1.35" stroke-dasharray="1.6 1.68"/>
<line x1="192.0" y1="89.6" x2="253.3" y2="123.0" stroke="#3a3a3a" stroke-width="1.35" stroke-dasharray="1.6 1.68"/>
<path d="M254.80,98.90 Q262.46,81.42 267.10,62.90" fill="none" stroke="#6b52e3" stroke-width="1.60" stroke-linecap="round"/>
<path d="M254.80,98.90 Q262.46,81.42 267.10,62.90" fill="none" stroke="#6b52e3" stroke-width="4.00" stroke-linecap="round" stroke-dasharray="0 3.3"/>
<path d="M267.50,61.82 Q268.95,57.86 270.40,53.90" fill="none" stroke="#f4a62a" stroke-width="2.34" stroke-linecap="round"/>
<path d="M267.50,61.82 Q268.95,57.86 270.40,53.90" fill="none" stroke="#f4a62a" stroke-width="3.90" stroke-linecap="round" stroke-dasharray="0 3.1"/>
<path d="M258.90,100.60 Q270.88,85.49 280.20,68.60" fill="none" stroke="#6b52e3" stroke-width="1.60" stroke-linecap="round"/>
<path d="M258.90,100.60 Q270.88,85.49 280.20,68.60" fill="none" stroke="#6b52e3" stroke-width="4.00" stroke-linecap="round" stroke-dasharray="0 3.3"/>
<path d="M280.79,67.63 Q282.94,64.06 285.10,60.50" fill="none" stroke="#f4a62a" stroke-width="2.34" stroke-linecap="round"/>
<path d="M280.79,67.63 Q282.94,64.06 285.10,60.50" fill="none" stroke="#f4a62a" stroke-width="3.90" stroke-linecap="round" stroke-dasharray="0 3.1"/>
<path d="M263.00,103.00 Q278.85,90.26 292.50,75.20" fill="none" stroke="#6b52e3" stroke-width="1.60" stroke-linecap="round"/>
<path d="M263.00,103.00 Q278.85,90.26 292.50,75.20" fill="none" stroke="#6b52e3" stroke-width="4.00" stroke-linecap="round" stroke-dasharray="0 3.3"/>
<path d="M293.18,74.52 Q295.69,72.01 298.20,69.50" fill="none" stroke="#f4a62a" stroke-width="2.34" stroke-linecap="round"/>
<path d="M293.18,74.52 Q295.69,72.01 298.20,69.50" fill="none" stroke="#f4a62a" stroke-width="3.90" stroke-linecap="round" stroke-dasharray="0 3.1"/>
<path d="M266.30,104.60 Q284.28,95.57 300.60,83.80" fill="none" stroke="#6b52e3" stroke-width="1.60" stroke-linecap="round"/>
<path d="M266.30,104.60 Q284.28,95.57 300.60,83.80" fill="none" stroke="#6b52e3" stroke-width="4.00" stroke-linecap="round" stroke-dasharray="0 3.3"/>
<path d="M301.34,83.34 Q304.07,81.67 306.80,80.00" fill="none" stroke="#f4a62a" stroke-width="2.34" stroke-linecap="round"/>
<path d="M301.34,83.34 Q304.07,81.67 306.80,80.00" fill="none" stroke="#f4a62a" stroke-width="3.90" stroke-linecap="round" stroke-dasharray="0 3.1"/>
<path d="M267.90,107.10 Q287.62,102.68 306.40,95.20" fill="none" stroke="#6b52e3" stroke-width="1.60" stroke-linecap="round"/>
<path d="M267.90,107.10 Q287.62,102.68 306.40,95.20" fill="none" stroke="#6b52e3" stroke-width="4.00" stroke-linecap="round" stroke-dasharray="0 3.3"/>
<path d="M307.36,94.94 Q310.88,93.97 314.40,93.00" fill="none" stroke="#f4a62a" stroke-width="2.34" stroke-linecap="round"/>
<path d="M307.36,94.94 Q310.88,93.97 314.40,93.00" fill="none" stroke="#f4a62a" stroke-width="3.90" stroke-linecap="round" stroke-dasharray="0 3.1"/>
<path d="M269.50,107.60 Q289.16,109.10 308.80,107.40" fill="none" stroke="#6b52e3" stroke-width="1.60" stroke-linecap="round"/>
<path d="M269.50,107.60 Q289.16,109.10 308.80,107.40" fill="none" stroke="#6b52e3" stroke-width="4.00" stroke-linecap="round" stroke-dasharray="0 3.3"/>
<path d="M309.86,107.40 Q313.73,107.40 317.60,107.40" fill="none" stroke="#f4a62a" stroke-width="2.34" stroke-linecap="round"/>
<path d="M309.86,107.40 Q313.73,107.40 317.60,107.40" fill="none" stroke="#f4a62a" stroke-width="3.90" stroke-linecap="round" stroke-dasharray="0 3.1"/>
<path d="M272.00,112.50 Q290.06,118.01 308.80,120.40" fill="none" stroke="#6b52e3" stroke-width="1.60" stroke-linecap="round"/>
<path d="M272.00,112.50 Q290.06,118.01 308.80,120.40" fill="none" stroke="#6b52e3" stroke-width="4.00" stroke-linecap="round" stroke-dasharray="0 3.3"/>
<path d="M309.78,120.47 Q313.39,120.74 317.00,121.00" fill="none" stroke="#f4a62a" stroke-width="2.34" stroke-linecap="round"/>
<path d="M309.78,120.47 Q313.39,120.74 317.00,121.00" fill="none" stroke="#f4a62a" stroke-width="3.90" stroke-linecap="round" stroke-dasharray="0 3.1"/>
<g transform="translate(269.50 47.40) rotate(-0.7) scale(-1.18 1.18)" fill="#0f5f5c"><circle cx="0.00" cy="0.00" r="4.40"/><circle cx="-3.00" cy="-2.70" r="3.10"/><circle cx="2.80" cy="-3.00" r="3.10"/><circle cx="3.70" cy="1.30" r="2.80"/><circle cx="-3.70" cy="1.10" r="2.80"/><circle cx="0.30" cy="3.50" r="2.50"/><circle cx="-5.99" cy="-2.50" r="1.08"/><circle cx="-5.23" cy="-4.71" r="1.12"/><circle cx="-3.11" cy="-5.70" r="1.27"/><circle cx="2.65" cy="-6.00" r="1.09"/><circle cx="4.85" cy="-5.19" r="1.10"/><circle cx="5.80" cy="-3.06" r="1.13"/><circle cx="6.12" cy="0.10" r="0.97"/><circle cx="6.25" cy="2.20" r="1.10"/><circle cx="4.83" cy="3.75" r="1.15"/><circle cx="-4.95" cy="3.49" r="1.22"/><circle cx="-6.29" cy="1.87" r="0.94"/><circle cx="-6.06" cy="-0.22" r="1.02"/><circle cx="2.16" cy="5.02" r="0.94"/><circle cx="0.50" cy="5.89" r="1.22"/><circle cx="-1.27" cy="5.31" r="1.18"/></g>
<g transform="translate(286.70 53.10) rotate(28.9) scale(1.18 1.18)" fill="#0f5f5c"><circle cx="0.00" cy="0.00" r="4.40"/><circle cx="-3.00" cy="-2.70" r="3.10"/><circle cx="2.80" cy="-3.00" r="3.10"/><circle cx="3.70" cy="1.30" r="2.80"/><circle cx="-3.70" cy="1.10" r="2.80"/><circle cx="0.30" cy="3.50" r="2.50"/><circle cx="-5.99" cy="-2.50" r="1.08"/><circle cx="-5.23" cy="-4.71" r="1.12"/><circle cx="-3.11" cy="-5.70" r="1.27"/><circle cx="2.65" cy="-6.00" r="1.09"/><circle cx="4.85" cy="-5.19" r="1.10"/><circle cx="5.80" cy="-3.06" r="1.13"/><circle cx="6.12" cy="0.10" r="0.97"/><circle cx="6.25" cy="2.20" r="1.10"/><circle cx="4.83" cy="3.75" r="1.15"/><circle cx="-4.95" cy="3.49" r="1.22"/><circle cx="-6.29" cy="1.87" r="0.94"/><circle cx="-6.06" cy="-0.22" r="1.02"/><circle cx="2.16" cy="5.02" r="0.94"/><circle cx="0.50" cy="5.89" r="1.22"/><circle cx="-1.27" cy="5.31" r="1.18"/></g>
<g transform="translate(299.80 62.90) rotate(21.3) scale(1.18 1.18)" fill="#0f5f5c"><circle cx="0.00" cy="0.00" r="4.40"/><circle cx="-3.00" cy="-2.70" r="3.10"/><circle cx="2.80" cy="-3.00" r="3.10"/><circle cx="3.70" cy="1.30" r="2.80"/><circle cx="-3.70" cy="1.10" r="2.80"/><circle cx="0.30" cy="3.50" r="2.50"/><circle cx="-5.99" cy="-2.50" r="1.08"/><circle cx="-5.23" cy="-4.71" r="1.12"/><circle cx="-3.11" cy="-5.70" r="1.27"/><circle cx="2.65" cy="-6.00" r="1.09"/><circle cx="4.85" cy="-5.19" r="1.10"/><circle cx="5.80" cy="-3.06" r="1.13"/><circle cx="6.12" cy="0.10" r="0.97"/><circle cx="6.25" cy="2.20" r="1.10"/><circle cx="4.83" cy="3.75" r="1.15"/><circle cx="-4.95" cy="3.49" r="1.22"/><circle cx="-6.29" cy="1.87" r="0.94"/><circle cx="-6.06" cy="-0.22" r="1.02"/><circle cx="2.16" cy="5.02" r="0.94"/><circle cx="0.50" cy="5.89" r="1.22"/><circle cx="-1.27" cy="5.31" r="1.18"/></g>
<g transform="translate(310.50 73.40) rotate(34.1) scale(-1.18 1.18)" fill="#0f5f5c"><circle cx="0.00" cy="0.00" r="4.40"/><circle cx="-3.00" cy="-2.70" r="3.10"/><circle cx="2.80" cy="-3.00" r="3.10"/><circle cx="3.70" cy="1.30" r="2.80"/><circle cx="-3.70" cy="1.10" r="2.80"/><circle cx="0.30" cy="3.50" r="2.50"/><circle cx="-5.99" cy="-2.50" r="1.08"/><circle cx="-5.23" cy="-4.71" r="1.12"/><circle cx="-3.11" cy="-5.70" r="1.27"/><circle cx="2.65" cy="-6.00" r="1.09"/><circle cx="4.85" cy="-5.19" r="1.10"/><circle cx="5.80" cy="-3.06" r="1.13"/><circle cx="6.12" cy="0.10" r="0.97"/><circle cx="6.25" cy="2.20" r="1.10"/><circle cx="4.83" cy="3.75" r="1.15"/><circle cx="-4.95" cy="3.49" r="1.22"/><circle cx="-6.29" cy="1.87" r="0.94"/><circle cx="-6.06" cy="-0.22" r="1.02"/><circle cx="2.16" cy="5.02" r="0.94"/><circle cx="0.50" cy="5.89" r="1.22"/><circle cx="-1.27" cy="5.31" r="1.18"/></g>
<g transform="translate(319.80 87.40) rotate(36.2) scale(1.18 1.18)" fill="#0f5f5c"><circle cx="0.00" cy="0.00" r="4.40"/><circle cx="-3.00" cy="-2.70" r="3.10"/><circle cx="2.80" cy="-3.00" r="3.10"/><circle cx="3.70" cy="1.30" r="2.80"/><circle cx="-3.70" cy="1.10" r="2.80"/><circle cx="0.30" cy="3.50" r="2.50"/><circle cx="-5.99" cy="-2.50" r="1.08"/><circle cx="-5.23" cy="-4.71" r="1.12"/><circle cx="-3.11" cy="-5.70" r="1.27"/><circle cx="2.65" cy="-6.00" r="1.09"/><circle cx="4.85" cy="-5.19" r="1.10"/><circle cx="5.80" cy="-3.06" r="1.13"/><circle cx="6.12" cy="0.10" r="0.97"/><circle cx="6.25" cy="2.20" r="1.10"/><circle cx="4.83" cy="3.75" r="1.15"/><circle cx="-4.95" cy="3.49" r="1.22"/><circle cx="-6.29" cy="1.87" r="0.94"/><circle cx="-6.06" cy="-0.22" r="1.02"/><circle cx="2.16" cy="5.02" r="0.94"/><circle cx="0.50" cy="5.89" r="1.22"/><circle cx="-1.27" cy="5.31" r="1.18"/></g>
<g transform="translate(325.60 104.20) rotate(67.6) scale(-1.18 1.18)" fill="#0f5f5c"><circle cx="0.00" cy="0.00" r="4.40"/><circle cx="-3.00" cy="-2.70" r="3.10"/><circle cx="2.80" cy="-3.00" r="3.10"/><circle cx="3.70" cy="1.30" r="2.80"/><circle cx="-3.70" cy="1.10" r="2.80"/><circle cx="0.30" cy="3.50" r="2.50"/><circle cx="-5.99" cy="-2.50" r="1.08"/><circle cx="-5.23" cy="-4.71" r="1.12"/><circle cx="-3.11" cy="-5.70" r="1.27"/><circle cx="2.65" cy="-6.00" r="1.09"/><circle cx="4.85" cy="-5.19" r="1.10"/><circle cx="5.80" cy="-3.06" r="1.13"/><circle cx="6.12" cy="0.10" r="0.97"/><circle cx="6.25" cy="2.20" r="1.10"/><circle cx="4.83" cy="3.75" r="1.15"/><circle cx="-4.95" cy="3.49" r="1.22"/><circle cx="-6.29" cy="1.87" r="0.94"/><circle cx="-6.06" cy="-0.22" r="1.02"/><circle cx="2.16" cy="5.02" r="0.94"/><circle cx="0.50" cy="5.89" r="1.22"/><circle cx="-1.27" cy="5.31" r="1.18"/></g>
<g transform="translate(325.60 119.60) rotate(65.9) scale(1.18 1.18)" fill="#0f5f5c"><circle cx="0.00" cy="0.00" r="4.40"/><circle cx="-3.00" cy="-2.70" r="3.10"/><circle cx="2.80" cy="-3.00" r="3.10"/><circle cx="3.70" cy="1.30" r="2.80"/><circle cx="-3.70" cy="1.10" r="2.80"/><circle cx="0.30" cy="3.50" r="2.50"/><circle cx="-5.99" cy="-2.50" r="1.08"/><circle cx="-5.23" cy="-4.71" r="1.12"/><circle cx="-3.11" cy="-5.70" r="1.27"/><circle cx="2.65" cy="-6.00" r="1.09"/><circle cx="4.85" cy="-5.19" r="1.10"/><circle cx="5.80" cy="-3.06" r="1.13"/><circle cx="6.12" cy="0.10" r="0.97"/><circle cx="6.25" cy="2.20" r="1.10"/><circle cx="4.83" cy="3.75" r="1.15"/><circle cx="-4.95" cy="3.49" r="1.22"/><circle cx="-6.29" cy="1.87" r="0.94"/><circle cx="-6.06" cy="-0.22" r="1.02"/><circle cx="2.16" cy="5.02" r="0.94"/><circle cx="0.50" cy="5.89" r="1.22"/><circle cx="-1.27" cy="5.31" r="1.18"/></g>
<ellipse cx="255.6" cy="107.1" rx="4.9" ry="4.51" fill="#ea6434"/>
<ellipse cx="261.4" cy="108.7" rx="4.6" ry="4.23" fill="#ea6434"/>
<ellipse cx="257.8" cy="116.9" rx="4.9" ry="4.51" fill="#ea6434"/>
<ellipse cx="269.2" cy="116.9" rx="4.9" ry="4.51" fill="#ea6434"/>
<g fill="none" stroke="#a31f1f" stroke-width="1.35"><ellipse cx="244.3" cy="47.5" rx="2.8" ry="2.3" transform="rotate(15 244.3 47.5)"/><ellipse cx="241.4" cy="60.0" rx="3.0" ry="2.5" transform="rotate(-8 241.4 60)"/></g>
<path d="M246.2,49.3 L268.2,60.4 L267.2,61.0 L245.6,50.6 Z M244.2,57.2 L268.0,56.9 L268.0,58.0 L244.4,58.6 Z" fill="#a31f1f"/>
<path d="M411.00,75.90 L420.00,73.00 L428.00,71.30 L434.50,70.80 L440.00,71.00 L444.50,71.60" fill="none" stroke="#6b52e3" stroke-width="1.67" stroke-linecap="round" stroke-linejoin="round"/>
<path d="M411.00,75.90 L420.00,73.00 L428.00,71.30 L434.50,70.80 L440.00,71.00 L444.50,71.60" fill="none" stroke="#6b52e3" stroke-width="3.70" stroke-linecap="round" stroke-dasharray="0 3.2"/>
<path d="M432.00,81.00 L440.00,78.50 L448.00,76.30 L455.00,74.80 L461.80,74.60" fill="none" stroke="#6b52e3" stroke-width="1.67" stroke-linecap="round" stroke-linejoin="round"/>
<path d="M432.00,81.00 L440.00,78.50 L448.00,76.30 L455.00,74.80 L461.80,74.60" fill="none" stroke="#6b52e3" stroke-width="3.70" stroke-linecap="round" stroke-dasharray="0 3.2"/>
<path d="M426.30,89.30 L435.00,86.30 L444.00,82.50 L452.00,79.20 L461.80,75.60" fill="none" stroke="#6b52e3" stroke-width="1.67" stroke-linecap="round" stroke-linejoin="round"/>
<path d="M426.30,89.30 L435.00,86.30 L444.00,82.50 L452.00,79.20 L461.80,75.60" fill="none" stroke="#6b52e3" stroke-width="3.70" stroke-linecap="round" stroke-dasharray="0 3.2"/>
<path d="M440.30,95.00 L450.00,92.50 L460.00,89.60 L472.70,85.00" fill="none" stroke="#6b52e3" stroke-width="1.67" stroke-linecap="round" stroke-linejoin="round"/>
<path d="M440.30,95.00 L450.00,92.50 L460.00,89.60 L472.70,85.00" fill="none" stroke="#6b52e3" stroke-width="3.70" stroke-linecap="round" stroke-dasharray="0 3.2"/>
<path d="M395.70,100.70 L409.00,100.50 L421.80,101.40 L428.20,103.90 L440.90,105.20 L447.30,107.30 L454.50,108.30" fill="none" stroke="#6b52e3" stroke-width="1.67" stroke-linecap="round" stroke-linejoin="round"/>
<path d="M395.70,100.70 L409.00,100.50 L421.80,101.40 L428.20,103.90 L440.90,105.20 L447.30,107.30 L454.50,108.30" fill="none" stroke="#6b52e3" stroke-width="3.70" stroke-linecap="round" stroke-dasharray="0 3.2"/>
<path d="M416.00,108.10 L428.20,106.50 L440.00,104.00 L447.30,106.50 L454.50,108.30 L463.30,106.10 L472.00,103.20 L480.70,101.00" fill="none" stroke="#6b52e3" stroke-width="1.67" stroke-linecap="round" stroke-linejoin="round"/>
<path d="M416.00,108.10 L428.20,106.50 L440.00,104.00 L447.30,106.50 L454.50,108.30 L463.30,106.10 L472.00,103.20 L480.70,101.00" fill="none" stroke="#6b52e3" stroke-width="3.70" stroke-linecap="round" stroke-dasharray="0 3.2"/>
<ellipse cx="453.8" cy="56.9" rx="5.5" ry="5.1" fill="#ea6434"/>
<ellipse cx="426.0" cy="80.7" rx="5.5" ry="5.1" fill="#ea6434"/>
<ellipse cx="433.9" cy="95.0" rx="5.5" ry="5.1" fill="#ea6434"/>
<ellipse cx="513.2" cy="90.1" rx="5.5" ry="5.1" fill="#ea6434"/>
<ellipse cx="403.1" cy="111.5" rx="5.5" ry="5.1" fill="#ea6434"/>
<g transform="translate(471.50 68.00) rotate(42.9) scale(1.2 1.2)" fill="#0f5f5c"><circle cx="0.00" cy="0.00" r="4.40"/><circle cx="-3.00" cy="-2.70" r="3.10"/><circle cx="2.80" cy="-3.00" r="3.10"/><circle cx="3.70" cy="1.30" r="2.80"/><circle cx="-3.70" cy="1.10" r="2.80"/><circle cx="0.30" cy="3.50" r="2.50"/><circle cx="-5.99" cy="-2.50" r="1.08"/><circle cx="-5.23" cy="-4.71" r="1.12"/><circle cx="-3.11" cy="-5.70" r="1.27"/><circle cx="2.65" cy="-6.00" r="1.09"/><circle cx="4.85" cy="-5.19" r="1.10"/><circle cx="5.80" cy="-3.06" r="1.13"/><circle cx="6.12" cy="0.10" r="0.97"/><circle cx="6.25" cy="2.20" r="1.10"/><circle cx="4.83" cy="3.75" r="1.15"/><circle cx="-4.95" cy="3.49" r="1.22"/><circle cx="-6.29" cy="1.87" r="0.94"/><circle cx="-6.06" cy="-0.22" r="1.02"/><circle cx="2.16" cy="5.02" r="0.94"/><circle cx="0.50" cy="5.89" r="1.22"/><circle cx="-1.27" cy="5.31" r="1.18"/></g>
<circle cx="466.20" cy="73.10" r="1.70" fill="#f4a62a" />
<g transform="translate(487.50 79.00) rotate(68.9) scale(-1.2 1.2)" fill="#0f5f5c"><circle cx="0.00" cy="0.00" r="4.40"/><circle cx="-3.00" cy="-2.70" r="3.10"/><circle cx="2.80" cy="-3.00" r="3.10"/><circle cx="3.70" cy="1.30" r="2.80"/><circle cx="-3.70" cy="1.10" r="2.80"/><circle cx="0.30" cy="3.50" r="2.50"/><circle cx="-5.99" cy="-2.50" r="1.08"/><circle cx="-5.23" cy="-4.71" r="1.12"/><circle cx="-3.11" cy="-5.70" r="1.27"/><circle cx="2.65" cy="-6.00" r="1.09"/><circle cx="4.85" cy="-5.19" r="1.10"/><circle cx="5.80" cy="-3.06" r="1.13"/><circle cx="6.12" cy="0.10" r="0.97"/><circle cx="6.25" cy="2.20" r="1.10"/><circle cx="4.83" cy="3.75" r="1.15"/><circle cx="-4.95" cy="3.49" r="1.22"/><circle cx="-6.29" cy="1.87" r="0.94"/><circle cx="-6.06" cy="-0.22" r="1.02"/><circle cx="2.16" cy="5.02" r="0.94"/><circle cx="0.50" cy="5.89" r="1.22"/><circle cx="-1.27" cy="5.31" r="1.18"/></g>
<circle cx="480.00" cy="79.50" r="1.70" fill="#f4a62a" />
<g transform="translate(495.50 94.20) rotate(64.0) scale(1.2 1.2)" fill="#0f5f5c"><circle cx="0.00" cy="0.00" r="4.40"/><circle cx="-3.00" cy="-2.70" r="3.10"/><circle cx="2.80" cy="-3.00" r="3.10"/><circle cx="3.70" cy="1.30" r="2.80"/><circle cx="-3.70" cy="1.10" r="2.80"/><circle cx="0.30" cy="3.50" r="2.50"/><circle cx="-5.99" cy="-2.50" r="1.08"/><circle cx="-5.23" cy="-4.71" r="1.12"/><circle cx="-3.11" cy="-5.70" r="1.27"/><circle cx="2.65" cy="-6.00" r="1.09"/><circle cx="4.85" cy="-5.19" r="1.10"/><circle cx="5.80" cy="-3.06" r="1.13"/><circle cx="6.12" cy="0.10" r="0.97"/><circle cx="6.25" cy="2.20" r="1.10"/><circle cx="4.83" cy="3.75" r="1.15"/><circle cx="-4.95" cy="3.49" r="1.22"/><circle cx="-6.29" cy="1.87" r="0.94"/><circle cx="-6.06" cy="-0.22" r="1.02"/><circle cx="2.16" cy="5.02" r="0.94"/><circle cx="0.50" cy="5.89" r="1.22"/><circle cx="-1.27" cy="5.31" r="1.18"/></g>
<circle cx="489.50" cy="98.50" r="1.70" fill="#f4a62a" />
<g transform="translate(477.60 117.00) rotate(101.2) scale(1.2 1.2)" fill="#0f5f5c"><circle cx="0.00" cy="0.00" r="4.40"/><circle cx="-3.00" cy="-2.70" r="3.10"/><circle cx="2.80" cy="-3.00" r="3.10"/><circle cx="3.70" cy="1.30" r="2.80"/><circle cx="-3.70" cy="1.10" r="2.80"/><circle cx="0.30" cy="3.50" r="2.50"/><circle cx="-5.99" cy="-2.50" r="1.08"/><circle cx="-5.23" cy="-4.71" r="1.12"/><circle cx="-3.11" cy="-5.70" r="1.27"/><circle cx="2.65" cy="-6.00" r="1.09"/><circle cx="4.85" cy="-5.19" r="1.10"/><circle cx="5.80" cy="-3.06" r="1.13"/><circle cx="6.12" cy="0.10" r="0.97"/><circle cx="6.25" cy="2.20" r="1.10"/><circle cx="4.83" cy="3.75" r="1.15"/><circle cx="-4.95" cy="3.49" r="1.22"/><circle cx="-6.29" cy="1.87" r="0.94"/><circle cx="-6.06" cy="-0.22" r="1.02"/><circle cx="2.16" cy="5.02" r="0.94"/><circle cx="0.50" cy="5.89" r="1.22"/><circle cx="-1.27" cy="5.31" r="1.18"/></g>
<circle cx="471.30" cy="113.70" r="1.70" fill="#f4a62a" />
<g transform="translate(415.30 89.30) rotate(234.0) scale(-1.2 1.2)" fill="#0f5f5c"><circle cx="0.00" cy="0.00" r="4.40"/><circle cx="-3.00" cy="-2.70" r="3.10"/><circle cx="2.80" cy="-3.00" r="3.10"/><circle cx="3.70" cy="1.30" r="2.80"/><circle cx="-3.70" cy="1.10" r="2.80"/><circle cx="0.30" cy="3.50" r="2.50"/><circle cx="-5.99" cy="-2.50" r="1.08"/><circle cx="-5.23" cy="-4.71" r="1.12"/><circle cx="-3.11" cy="-5.70" r="1.27"/><circle cx="2.65" cy="-6.00" r="1.09"/><circle cx="4.85" cy="-5.19" r="1.10"/><circle cx="5.80" cy="-3.06" r="1.13"/><circle cx="6.12" cy="0.10" r="0.97"/><circle cx="6.25" cy="2.20" r="1.10"/><circle cx="4.83" cy="3.75" r="1.15"/><circle cx="-4.95" cy="3.49" r="1.22"/><circle cx="-6.29" cy="1.87" r="0.94"/><circle cx="-6.06" cy="-0.22" r="1.02"/><circle cx="2.16" cy="5.02" r="0.94"/><circle cx="0.50" cy="5.89" r="1.22"/><circle cx="-1.27" cy="5.31" r="1.18"/></g>
<circle cx="420.50" cy="86.10" r="1.70" fill="#f4a62a" />
<text x="297.20" y="14.40" font-size="13.2" text-anchor="middle" fill="#000" font-weight="bold" textLength="97.40" lengthAdjust="spacingAndGlyphs" >Redox-responsive</text>
<text x="296.80" y="27.60" font-size="13.2" text-anchor="middle" fill="#000" font-weight="bold" textLength="128.20" lengthAdjust="spacingAndGlyphs" >disulfide bond cleavage</text>
<text x="454.00" y="13.40" font-size="13.2" text-anchor="middle" fill="#000" font-weight="bold" textLength="68.80" lengthAdjust="spacingAndGlyphs" >Drug release</text>
<text x="453.70" y="26.00" font-size="13.2" text-anchor="middle" fill="#000" font-weight="bold" textLength="50.60" lengthAdjust="spacingAndGlyphs" >from NPs</text>
</svg></body></html>
